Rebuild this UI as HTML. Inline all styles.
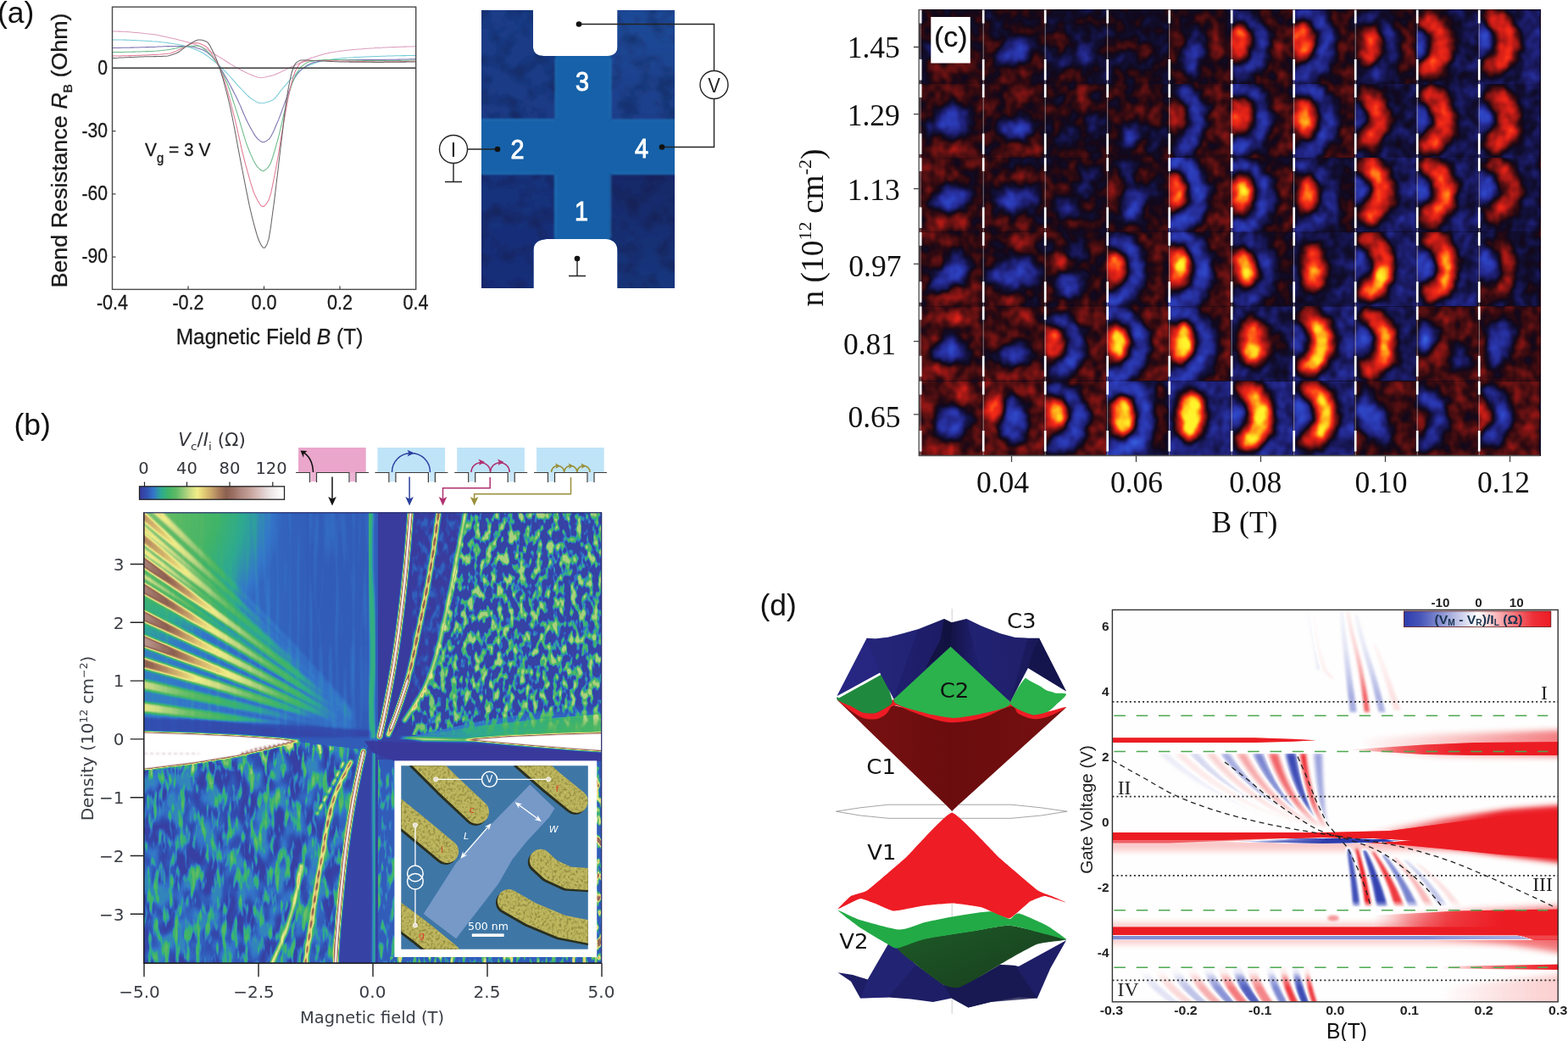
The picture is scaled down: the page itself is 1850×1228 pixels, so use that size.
<!DOCTYPE html>
<html lang="en"><head><meta charset="utf-8"><title>Figure</title>
<style>html,body{margin:0;padding:0;background:#fff;overflow:hidden}svg{display:block}</style>
</head><body>
<svg width="1850" height="1228" viewBox="0 0 1850 1228">
<defs>
<filter id="a2n" x="0" y="0" width="100%" height="100%" color-interpolation-filters="sRGB">
<feTurbulence type="fractalNoise" baseFrequency="0.045" numOctaves="3" seed="7" result="n"/>
<feColorMatrix in="n" type="matrix" values="0 0 0 0 0.04  0 0 0 0 0.08  0 0 0 0 0.22  1.0 0 0 0 -0.42" result="d"/>
<feComposite in="d" in2="SourceGraphic" operator="atop"/>
</filter>
<linearGradient id="a2g1" x1="0" y1="0" x2="0" y2="1"><stop offset="0" stop-color="#1a3c88"/><stop offset="1" stop-color="#1b3a86"/></linearGradient>
<linearGradient id="a2g2" x1="0" y1="0" x2="0" y2="1"><stop offset="0" stop-color="#18327c"/><stop offset="1" stop-color="#172d78"/></linearGradient>
<linearGradient id="a2g3" x1="0" y1="0" x2="0" y2="1"><stop offset="0" stop-color="#1e4a98"/><stop offset="1" stop-color="#1c3e8a"/></linearGradient>
<linearGradient id="a2g4" x1="0" y1="0" x2="0" y2="1"><stop offset="0" stop-color="#162868"/><stop offset="1" stop-color="#19367e"/></linearGradient>
<filter id="a2b" x="-5%" y="-5%" width="110%" height="110%"><feGaussianBlur stdDeviation="1.1"/></filter>
<clipPath id="a2c"><path d="M568 12H629V56Q629.500 66 642 66H716Q728.500 66 728.500 55V12H796V340H728.500V296Q728.500 283 715 282H645Q629.500 283 629.500 295V340H568Z"/></clipPath>
<filter id="bM" filterUnits="userSpaceOnUse" x="169" y="604" width="542" height="533" color-interpolation-filters="sRGB">
<feComponentTransfer><feFuncR type="table" tableValues="0.227 0.192 0.204 0.180 0.251 0.361 0.565 0.792 0.941 0.878 0.784 0.667 0.549 0.612 0.690 0.753 0.824 0.878 0.925 0.973 1.000"/><feFuncG type="table" tableValues="0.227 0.314 0.471 0.667 0.706 0.729 0.784 0.863 0.933 0.784 0.643 0.486 0.376 0.439 0.541 0.612 0.706 0.800 0.894 0.957 1.000"/><feFuncB type="table" tableValues="0.612 0.698 0.792 0.565 0.408 0.392 0.471 0.518 0.533 0.455 0.408 0.361 0.314 0.392 0.502 0.580 0.682 0.800 0.894 0.957 1.000"/></feComponentTransfer>
</filter>
<filter id="bN1" x="0" y="0" width="100%" height="100%" color-interpolation-filters="sRGB">
<feTurbulence type="fractalNoise" baseFrequency="0.15 0.075" numOctaves="2" seed="5"/>
<feColorMatrix type="matrix" values="0 0 0 0 1  0 0 0 0 1  0 0 0 0 1  4.0 0 0 0 -1.78"/>
<feComposite operator="in" in2="SourceGraphic"/>
</filter>
<filter id="bN2" x="0" y="0" width="100%" height="100%" color-interpolation-filters="sRGB">
<feTurbulence type="fractalNoise" baseFrequency="0.16 0.045" numOctaves="2" seed="9"/>
<feColorMatrix type="matrix" values="0 0 0 0 1  0 0 0 0 1  0 0 0 0 1  4.0 0 0 0 -1.95"/>
<feComposite operator="in" in2="SourceGraphic"/>
</filter>
<filter id="bN3" x="0" y="0" width="100%" height="100%" color-interpolation-filters="sRGB">
<feTurbulence type="fractalNoise" baseFrequency="0.2 0.012" numOctaves="1" seed="4"/>
<feColorMatrix type="matrix" values="0 0 0 0 1  0 0 0 0 1  0 0 0 0 1  1.4 0 0 0 -0.62"/>
<feComposite operator="in" in2="SourceGraphic"/>
</filter>
<filter id="bN4" x="0" y="0" width="100%" height="100%" color-interpolation-filters="sRGB">
<feTurbulence type="fractalNoise" baseFrequency="0.05 0.03" numOctaves="2" seed="21"/>
<feColorMatrix type="matrix" values="0 0 0 0 1  0 0 0 0 1  0 0 0 0 1  3.2 0 0 0 -1.1"/>
<feComposite operator="in" in2="SourceGraphic"/>
</filter>
<filter id="bGt" x="-5%" y="-5%" width="110%" height="110%" color-interpolation-filters="sRGB">
<feTurbulence type="fractalNoise" baseFrequency="0.35 0.3" numOctaves="2" seed="2" result="n"/>
<feColorMatrix in="n" type="matrix" values="0 0 0 0 0.45  0 0 0 0 0.42  0 0 0 0 0.15  1.8 0 0 0 -0.82" result="d"/>
<feColorMatrix in="n" type="matrix" values="0 0 0 0 0.88  0 0 0 0 0.84  0 0 0 0 0.5  0 -1.8 0 0 0.7" result="l"/>
<feComposite in="d" in2="SourceGraphic" operator="in" result="d2"/>
<feComposite in="l" in2="SourceGraphic" operator="in" result="l2"/>
<feMerge><feMergeNode in="SourceGraphic"/><feMergeNode in="l2"/><feMergeNode in="d2"/></feMerge>
</filter>
<filter id="bB1" x="-10%" y="-10%" width="120%" height="120%"><feGaussianBlur stdDeviation="1.6"/></filter>
<filter id="bB2" x="-10%" y="-10%" width="120%" height="120%"><feGaussianBlur stdDeviation="0.8"/></filter>
<filter id="bB3" x="-30%" y="-30%" width="160%" height="160%"><feGaussianBlur stdDeviation="5"/></filter>
<clipPath id="bC"><rect x="169.7" y="604.8" width="540" height="531.4"/></clipPath>
<linearGradient id="bs0" gradientUnits="userSpaceOnUse" x1="169.7" y1="0" x2="285" y2="0"><stop offset="0" stop-color="#fff" stop-opacity="0.27"/><stop offset="0.3" stop-color="#fff" stop-opacity="0.16"/><stop offset="0.7" stop-color="#fff" stop-opacity="0.08"/><stop offset="1" stop-color="#fff" stop-opacity="0.02"/></linearGradient>
<linearGradient id="bs1" gradientUnits="userSpaceOnUse" x1="169.7" y1="0" x2="315" y2="0"><stop offset="0" stop-color="#fff" stop-opacity="0.33"/><stop offset="0.3" stop-color="#fff" stop-opacity="0.20"/><stop offset="0.7" stop-color="#fff" stop-opacity="0.09"/><stop offset="1" stop-color="#fff" stop-opacity="0.02"/></linearGradient>
<linearGradient id="bs2" gradientUnits="userSpaceOnUse" x1="169.7" y1="0" x2="325" y2="0"><stop offset="0" stop-color="#fff" stop-opacity="0.25"/><stop offset="0.3" stop-color="#fff" stop-opacity="0.15"/><stop offset="0.7" stop-color="#fff" stop-opacity="0.07"/><stop offset="1" stop-color="#fff" stop-opacity="0.02"/></linearGradient>
<linearGradient id="bs3" gradientUnits="userSpaceOnUse" x1="169.7" y1="0" x2="355" y2="0"><stop offset="0" stop-color="#fff" stop-opacity="0.38"/><stop offset="0.3" stop-color="#fff" stop-opacity="0.23"/><stop offset="0.7" stop-color="#fff" stop-opacity="0.11"/><stop offset="1" stop-color="#fff" stop-opacity="0.02"/></linearGradient>
<linearGradient id="bs4" gradientUnits="userSpaceOnUse" x1="169.7" y1="0" x2="360" y2="0"><stop offset="0" stop-color="#fff" stop-opacity="0.25"/><stop offset="0.3" stop-color="#fff" stop-opacity="0.15"/><stop offset="0.7" stop-color="#fff" stop-opacity="0.07"/><stop offset="1" stop-color="#fff" stop-opacity="0.02"/></linearGradient>
<linearGradient id="bs5" gradientUnits="userSpaceOnUse" x1="169.7" y1="0" x2="385" y2="0"><stop offset="0" stop-color="#fff" stop-opacity="0.59"/><stop offset="0.3" stop-color="#fff" stop-opacity="0.36"/><stop offset="0.7" stop-color="#fff" stop-opacity="0.17"/><stop offset="1" stop-color="#fff" stop-opacity="0.02"/></linearGradient>
<linearGradient id="bs6" gradientUnits="userSpaceOnUse" x1="169.7" y1="0" x2="370" y2="0"><stop offset="0" stop-color="#fff" stop-opacity="0.20"/><stop offset="0.3" stop-color="#fff" stop-opacity="0.12"/><stop offset="0.7" stop-color="#fff" stop-opacity="0.05"/><stop offset="1" stop-color="#fff" stop-opacity="0.02"/></linearGradient>
<linearGradient id="bs7" gradientUnits="userSpaceOnUse" x1="169.7" y1="0" x2="395" y2="0"><stop offset="0" stop-color="#fff" stop-opacity="0.61"/><stop offset="0.3" stop-color="#fff" stop-opacity="0.37"/><stop offset="0.7" stop-color="#fff" stop-opacity="0.17"/><stop offset="1" stop-color="#fff" stop-opacity="0.02"/></linearGradient>
<linearGradient id="bs8" gradientUnits="userSpaceOnUse" x1="169.7" y1="0" x2="400" y2="0"><stop offset="0" stop-color="#fff" stop-opacity="0.64"/><stop offset="0.3" stop-color="#fff" stop-opacity="0.38"/><stop offset="0.7" stop-color="#fff" stop-opacity="0.18"/><stop offset="1" stop-color="#fff" stop-opacity="0.02"/></linearGradient>
<linearGradient id="bs9" gradientUnits="userSpaceOnUse" x1="169.7" y1="0" x2="395" y2="0"><stop offset="0" stop-color="#fff" stop-opacity="0.70"/><stop offset="0.3" stop-color="#fff" stop-opacity="0.42"/><stop offset="0.7" stop-color="#fff" stop-opacity="0.20"/><stop offset="1" stop-color="#fff" stop-opacity="0.02"/></linearGradient>
<linearGradient id="bs10" gradientUnits="userSpaceOnUse" x1="169.7" y1="0" x2="375" y2="0"><stop offset="0" stop-color="#fff" stop-opacity="0.57"/><stop offset="0.3" stop-color="#fff" stop-opacity="0.34"/><stop offset="0.7" stop-color="#fff" stop-opacity="0.16"/><stop offset="1" stop-color="#fff" stop-opacity="0.02"/></linearGradient>
<linearGradient id="bs11" gradientUnits="userSpaceOnUse" x1="169.7" y1="0" x2="350" y2="0"><stop offset="0" stop-color="#fff" stop-opacity="0.28"/><stop offset="0.3" stop-color="#fff" stop-opacity="0.17"/><stop offset="0.7" stop-color="#fff" stop-opacity="0.08"/><stop offset="1" stop-color="#fff" stop-opacity="0.02"/></linearGradient>
<linearGradient id="bs12" gradientUnits="userSpaceOnUse" x1="169.7" y1="0" x2="340" y2="0"><stop offset="0" stop-color="#fff" stop-opacity="0.31"/><stop offset="0.3" stop-color="#fff" stop-opacity="0.19"/><stop offset="0.7" stop-color="#fff" stop-opacity="0.09"/><stop offset="1" stop-color="#fff" stop-opacity="0.02"/></linearGradient>
<radialGradient id="bgc" gradientUnits="userSpaceOnUse" cx="165" cy="598" r="170"><stop offset="0" stop-color="#fff" stop-opacity="0.2"/><stop offset="0.5" stop-color="#fff" stop-opacity="0.13"/><stop offset="1" stop-color="#fff" stop-opacity="0"/></radialGradient>
<linearGradient id="bgl" gradientUnits="userSpaceOnUse" x1="170" y1="0" x2="370" y2="0"><stop offset="0" stop-color="#fff" stop-opacity="0.045"/><stop offset="1" stop-color="#fff" stop-opacity="0"/></linearGradient>
<linearGradient id="bn1" gradientUnits="userSpaceOnUse" x1="480" y1="0" x2="560" y2="0"><stop offset="0" stop-color="#fff" stop-opacity="0.26"/><stop offset="1" stop-color="#fff" stop-opacity="0.31"/></linearGradient>
<linearGradient id="bn2" gradientUnits="userSpaceOnUse" x1="170" y1="0" x2="440" y2="0"><stop offset="0" stop-color="#fff" stop-opacity="0.15"/><stop offset="0.7" stop-color="#fff" stop-opacity="0.17"/><stop offset="1" stop-color="#fff" stop-opacity="0.15"/></linearGradient>
<linearGradient id="bn3" gradientUnits="userSpaceOnUse" x1="0" y1="830" x2="0" y2="862"><stop offset="0" stop-color="#303030" stop-opacity="0"/><stop offset="1" stop-color="#1c1c1c" stop-opacity="0.9"/></linearGradient>
<linearGradient id="bn4" gradientUnits="userSpaceOnUse" x1="480" y1="0" x2="709" y2="0"><stop offset="0" stop-color="#fff" stop-opacity="0"/><stop offset="0.5" stop-color="#fff" stop-opacity="0.07"/><stop offset="1" stop-color="#fff" stop-opacity="0.13"/></linearGradient>
<linearGradient id="bn5" gradientUnits="userSpaceOnUse" x1="0" y1="880" x2="0" y2="940"><stop offset="0" stop-color="#fff" stop-opacity="0.2"/><stop offset="1" stop-color="#fff" stop-opacity="0"/></linearGradient>
<linearGradient id="bgr" gradientUnits="userSpaceOnUse" x1="470" y1="0" x2="709" y2="0"><stop offset="0" stop-color="#fff" stop-opacity="0"/><stop offset="0.4" stop-color="#fff" stop-opacity="0.1"/><stop offset="1" stop-color="#fff" stop-opacity="0.2"/></linearGradient>
<filter id="cB" x="-100%" y="-100%" width="300%" height="300%" color-interpolation-filters="sRGB"><feGaussianBlur stdDeviation="5.4"/></filter>
<filter id="cM" filterUnits="userSpaceOnUse" x="1084" y="11" width="734" height="527" color-interpolation-filters="sRGB">
<feTurbulence type="fractalNoise" baseFrequency="0.07 0.06" numOctaves="2" seed="11" result="n"/>
<feColorMatrix in="n" type="matrix" values="1 0 0 0 0  1 0 0 0 0  1 0 0 0 0  0 0 0 0 1" result="ng"/>
<feComposite in="SourceGraphic" in2="ng" operator="arithmetic" k1="0" k2="1" k3="0.26" k4="-0.13" result="fz"/>
<feComponentTransfer in="fz"><feFuncR type="table" tableValues="0.282 0.235 0.220 0.200 0.180 0.165 0.145 0.118 0.090 0.063 0.071 0.188 0.337 0.502 0.675 0.847 0.957 1.000 1.000 1.000 1.000"/><feFuncG type="table" tableValues="0.816 0.612 0.408 0.322 0.267 0.220 0.173 0.125 0.086 0.055 0.031 0.039 0.063 0.078 0.102 0.125 0.173 0.361 0.596 0.831 0.957"/><feFuncB type="table" tableValues="0.957 0.925 0.878 0.824 0.761 0.690 0.580 0.455 0.322 0.188 0.102 0.063 0.071 0.078 0.086 0.094 0.094 0.094 0.094 0.125 0.173"/></feComponentTransfer>
</filter>
<clipPath id="ct1_1"><rect x="1084.8" y="11.5" width="74" height="87.5"/></clipPath>
<clipPath id="ct1_2"><rect x="1158.8" y="11.5" width="73" height="87.5"/></clipPath>
<clipPath id="ct1_3"><rect x="1231.8" y="11.5" width="73.5" height="87.5"/></clipPath>
<clipPath id="ct1_4"><rect x="1305.3" y="11.5" width="73" height="87.5"/></clipPath>
<clipPath id="ct1_5"><rect x="1378.3" y="11.5" width="73.5" height="87.5"/></clipPath>
<clipPath id="ct1_6"><rect x="1451.8" y="11.5" width="73.5" height="87.5"/></clipPath>
<clipPath id="ct1_7"><rect x="1525.3" y="11.5" width="72.5" height="87.5"/></clipPath>
<clipPath id="ct1_8"><rect x="1597.8" y="11.5" width="73" height="87.5"/></clipPath>
<clipPath id="ct1_9"><rect x="1670.8" y="11.5" width="73" height="87.5"/></clipPath>
<clipPath id="ct1_10"><rect x="1743.8" y="11.5" width="73" height="87.5"/></clipPath>
<clipPath id="ct2_1"><rect x="1084.8" y="99" width="74" height="87"/></clipPath>
<clipPath id="ct2_2"><rect x="1158.8" y="99" width="73" height="87"/></clipPath>
<clipPath id="ct2_3"><rect x="1231.8" y="99" width="73.5" height="87"/></clipPath>
<clipPath id="ct2_4"><rect x="1305.3" y="99" width="73" height="87"/></clipPath>
<clipPath id="ct2_5"><rect x="1378.3" y="99" width="73.5" height="87"/></clipPath>
<clipPath id="ct2_6"><rect x="1451.8" y="99" width="73.5" height="87"/></clipPath>
<clipPath id="ct2_7"><rect x="1525.3" y="99" width="72.5" height="87"/></clipPath>
<clipPath id="ct2_8"><rect x="1597.8" y="99" width="73" height="87"/></clipPath>
<clipPath id="ct2_9"><rect x="1670.8" y="99" width="73" height="87"/></clipPath>
<clipPath id="ct2_10"><rect x="1743.8" y="99" width="73" height="87"/></clipPath>
<clipPath id="ct3_1"><rect x="1084.8" y="186" width="74" height="87.7"/></clipPath>
<clipPath id="ct3_2"><rect x="1158.8" y="186" width="73" height="87.7"/></clipPath>
<clipPath id="ct3_3"><rect x="1231.8" y="186" width="73.5" height="87.7"/></clipPath>
<clipPath id="ct3_4"><rect x="1305.3" y="186" width="73" height="87.7"/></clipPath>
<clipPath id="ct3_5"><rect x="1378.3" y="186" width="73.5" height="87.7"/></clipPath>
<clipPath id="ct3_6"><rect x="1451.8" y="186" width="73.5" height="87.7"/></clipPath>
<clipPath id="ct3_7"><rect x="1525.3" y="186" width="72.5" height="87.7"/></clipPath>
<clipPath id="ct3_8"><rect x="1597.8" y="186" width="73" height="87.7"/></clipPath>
<clipPath id="ct3_9"><rect x="1670.8" y="186" width="73" height="87.7"/></clipPath>
<clipPath id="ct3_10"><rect x="1743.8" y="186" width="73" height="87.7"/></clipPath>
<clipPath id="ct4_1"><rect x="1084.8" y="273.7" width="74" height="87.6"/></clipPath>
<clipPath id="ct4_2"><rect x="1158.8" y="273.7" width="73" height="87.6"/></clipPath>
<clipPath id="ct4_3"><rect x="1231.8" y="273.7" width="73.5" height="87.6"/></clipPath>
<clipPath id="ct4_4"><rect x="1305.3" y="273.7" width="73" height="87.6"/></clipPath>
<clipPath id="ct4_5"><rect x="1378.3" y="273.7" width="73.5" height="87.6"/></clipPath>
<clipPath id="ct4_6"><rect x="1451.8" y="273.7" width="73.5" height="87.6"/></clipPath>
<clipPath id="ct4_7"><rect x="1525.3" y="273.7" width="72.5" height="87.6"/></clipPath>
<clipPath id="ct4_8"><rect x="1597.8" y="273.7" width="73" height="87.6"/></clipPath>
<clipPath id="ct4_9"><rect x="1670.8" y="273.7" width="73" height="87.6"/></clipPath>
<clipPath id="ct4_10"><rect x="1743.8" y="273.7" width="73" height="87.6"/></clipPath>
<clipPath id="ct5_1"><rect x="1084.8" y="361.3" width="74" height="88.1"/></clipPath>
<clipPath id="ct5_2"><rect x="1158.8" y="361.3" width="73" height="88.1"/></clipPath>
<clipPath id="ct5_3"><rect x="1231.8" y="361.3" width="73.5" height="88.1"/></clipPath>
<clipPath id="ct5_4"><rect x="1305.3" y="361.3" width="73" height="88.1"/></clipPath>
<clipPath id="ct5_5"><rect x="1378.3" y="361.3" width="73.5" height="88.1"/></clipPath>
<clipPath id="ct5_6"><rect x="1451.8" y="361.3" width="73.5" height="88.1"/></clipPath>
<clipPath id="ct5_7"><rect x="1525.3" y="361.3" width="72.5" height="88.1"/></clipPath>
<clipPath id="ct5_8"><rect x="1597.8" y="361.3" width="73" height="88.1"/></clipPath>
<clipPath id="ct5_9"><rect x="1670.8" y="361.3" width="73" height="88.1"/></clipPath>
<clipPath id="ct5_10"><rect x="1743.8" y="361.3" width="73" height="88.1"/></clipPath>
<clipPath id="ct6_1"><rect x="1084.8" y="449.4" width="74" height="87.9"/></clipPath>
<clipPath id="ct6_2"><rect x="1158.8" y="449.4" width="73" height="87.9"/></clipPath>
<clipPath id="ct6_3"><rect x="1231.8" y="449.4" width="73.5" height="87.9"/></clipPath>
<clipPath id="ct6_4"><rect x="1305.3" y="449.4" width="73" height="87.9"/></clipPath>
<clipPath id="ct6_5"><rect x="1378.3" y="449.4" width="73.5" height="87.9"/></clipPath>
<clipPath id="ct6_6"><rect x="1451.8" y="449.4" width="73.5" height="87.9"/></clipPath>
<clipPath id="ct6_7"><rect x="1525.3" y="449.4" width="72.5" height="87.9"/></clipPath>
<clipPath id="ct6_8"><rect x="1597.8" y="449.4" width="73" height="87.9"/></clipPath>
<clipPath id="ct6_9"><rect x="1670.8" y="449.4" width="73" height="87.9"/></clipPath>
<clipPath id="ct6_10"><rect x="1743.8" y="449.4" width="73" height="87.9"/></clipPath>
<filter id="dM" filterUnits="userSpaceOnUse" x="1312" y="719" width="527" height="464" color-interpolation-filters="sRGB">
<feComponentTransfer><feFuncR type="table" tableValues="0.173 0.275 0.392 0.557 0.769 1.000 0.984 0.965 0.949 0.937 0.929"/><feFuncG type="table" tableValues="0.235 0.329 0.439 0.596 0.784 1.000 0.816 0.604 0.408 0.227 0.110"/><feFuncB type="table" tableValues="0.682 0.722 0.776 0.847 0.918 1.000 0.816 0.612 0.424 0.251 0.141"/></feComponentTransfer>
</filter>
<filter id="dB1" x="-20%" y="-20%" width="140%" height="140%"><feGaussianBlur stdDeviation="1.5"/></filter>
<filter id="dB5" x="-20%" y="-20%" width="140%" height="140%"><feGaussianBlur stdDeviation="2"/></filter>
<filter id="dB2" x="-20%" y="-50%" width="140%" height="200%"><feGaussianBlur stdDeviation="3.5"/></filter>
<filter id="dB3" x="-20%" y="-50%" width="140%" height="200%"><feGaussianBlur stdDeviation="0.7"/></filter>
<filter id="dB4" x="-10%" y="-10%" width="120%" height="120%"><feGaussianBlur stdDeviation="0.5"/></filter>
<clipPath id="dC"><rect x="1312.4" y="719.4" width="525.8" height="462.4"/></clipPath>
<linearGradient id="dg1" gradientUnits="userSpaceOnUse" x1="1600" y1="0" x2="1838" y2="0"><stop offset="0" stop-color="#fff" stop-opacity="0"/><stop offset="0.35" stop-color="#fff" stop-opacity="0.5"/><stop offset="0.7" stop-color="#fff" stop-opacity="1"/><stop offset="1" stop-color="#fff" stop-opacity="1"/></linearGradient>
<linearGradient id="dg2" gradientUnits="userSpaceOnUse" x1="1590" y1="0" x2="1838" y2="0"><stop offset="0" stop-color="#fff" stop-opacity="0"/><stop offset="0.25" stop-color="#fff" stop-opacity="0.6"/><stop offset="0.55" stop-color="#fff" stop-opacity="1"/><stop offset="1" stop-color="#fff" stop-opacity="1"/></linearGradient>
<linearGradient id="dg3" gradientUnits="userSpaceOnUse" x1="1620" y1="0" x2="1838" y2="0"><stop offset="0" stop-color="#fff" stop-opacity="0"/><stop offset="0.4" stop-color="#fff" stop-opacity="0.7"/><stop offset="0.7" stop-color="#fff" stop-opacity="1"/><stop offset="1" stop-color="#fff" stop-opacity="1"/></linearGradient>
<linearGradient id="dg4" gradientUnits="userSpaceOnUse" x1="1700" y1="0" x2="1838" y2="0"><stop offset="0" stop-color="#fff" stop-opacity="0"/><stop offset="0.5" stop-color="#fff" stop-opacity="0.6"/><stop offset="1" stop-color="#fff" stop-opacity="1"/></linearGradient>
<linearGradient id="dg5" gradientUnits="userSpaceOnUse" x1="1312" y1="0" x2="1560" y2="0"><stop offset="0" stop-color="#fff" stop-opacity="1"/><stop offset="0.8" stop-color="#fff" stop-opacity="1"/><stop offset="1" stop-color="#fff" stop-opacity="0"/></linearGradient>
<linearGradient id="dg6" gradientUnits="userSpaceOnUse" x1="1440" y1="0" x2="1670" y2="0"><stop offset="0" stop-color="#000" stop-opacity="0"/><stop offset="0.35" stop-color="#000" stop-opacity="0.7"/><stop offset="0.55" stop-color="#000" stop-opacity="1"/><stop offset="0.85" stop-color="#000" stop-opacity="1"/><stop offset="1" stop-color="#000" stop-opacity="0"/></linearGradient>
<linearGradient id="dg7" gradientUnits="userSpaceOnUse" x1="1600" y1="0" x2="1838" y2="0"><stop offset="0" stop-color="#fff" stop-opacity="0"/><stop offset="0.5" stop-color="#fff" stop-opacity="0.25"/><stop offset="1" stop-color="#fff" stop-opacity="0.5"/></linearGradient>
<linearGradient id="dm2g" gradientUnits="userSpaceOnUse" x1="0" y1="889" x2="0" y2="986"><stop offset="0" stop-color="#fff" stop-opacity="1"/><stop offset="0.6" stop-color="#fff" stop-opacity="0.95"/><stop offset="0.85" stop-color="#fff" stop-opacity="0.6"/><stop offset="1" stop-color="#fff" stop-opacity="0"/></linearGradient><mask id="dm2" maskUnits="userSpaceOnUse" x="1312" y="889" width="528" height="97"><rect x="1312" y="889" width="528" height="97" fill="url(#dm2g)"/></mask>
<linearGradient id="dm3g" gradientUnits="userSpaceOnUse" x1="0" y1="996" x2="0" y2="1071"><stop offset="0" stop-color="#fff" stop-opacity="0.2"/><stop offset="0.12" stop-color="#fff" stop-opacity="0.9"/><stop offset="0.3" stop-color="#fff" stop-opacity="1"/><stop offset="0.88" stop-color="#fff" stop-opacity="1"/><stop offset="1" stop-color="#fff" stop-opacity="0"/></linearGradient><mask id="dm3" maskUnits="userSpaceOnUse" x="1312" y="996" width="528" height="75"><rect x="1312" y="996" width="528" height="75" fill="url(#dm3g)"/></mask>
<linearGradient id="dm1g" gradientUnits="userSpaceOnUse" x1="0" y1="719" x2="0" y2="846"><stop offset="0" stop-color="#fff" stop-opacity="0.1"/><stop offset="0.35" stop-color="#fff" stop-opacity="0.3"/><stop offset="0.6" stop-color="#fff" stop-opacity="0.6"/><stop offset="0.8" stop-color="#fff" stop-opacity="1"/><stop offset="0.93" stop-color="#fff" stop-opacity="1"/><stop offset="1" stop-color="#fff" stop-opacity="0"/></linearGradient><mask id="dm1" maskUnits="userSpaceOnUse" x="1312" y="719" width="528" height="127"><rect x="1312" y="719" width="528" height="127" fill="url(#dm1g)"/></mask>
<linearGradient id="dm4g" gradientUnits="userSpaceOnUse" x1="0" y1="1138" x2="0" y2="1184"><stop offset="0" stop-color="#fff" stop-opacity="0"/><stop offset="0.2" stop-color="#fff" stop-opacity="0.12"/><stop offset="0.42" stop-color="#fff" stop-opacity="0.7"/><stop offset="0.6" stop-color="#fff" stop-opacity="1"/><stop offset="1" stop-color="#fff" stop-opacity="1"/></linearGradient><mask id="dm4" maskUnits="userSpaceOnUse" x="1312" y="1138" width="528" height="46"><rect x="1312" y="1138" width="528" height="46" fill="url(#dm4g)"/></mask>
<linearGradient id="dcb" x1="0" y1="0" x2="1" y2="0"><stop offset="0" stop-color="#2c3cae"/><stop offset="0.12" stop-color="#4a58ba"/><stop offset="0.5" stop-color="#fff"/><stop offset="0.88" stop-color="#ee3038"/><stop offset="1" stop-color="#ed1c24"/></linearGradient>
<linearGradient id="d3a" x1="0" y1="0" x2="1" y2="0"><stop offset="0" stop-color="#24247c"/><stop offset="0.45" stop-color="#1c1c66"/><stop offset="0.5" stop-color="#141448"/><stop offset="0.6" stop-color="#1e1e6c"/><stop offset="1" stop-color="#161650"/></linearGradient>
<linearGradient id="d3b" x1="0" y1="0" x2="1" y2="1"><stop offset="0" stop-color="#1d5a28"/><stop offset="1" stop-color="#183c1c"/></linearGradient>
<linearGradient id="d3c" x1="0" y1="0" x2="1" y2="0"><stop offset="0" stop-color="#7a1212"/><stop offset="0.5" stop-color="#6a0c0e"/><stop offset="1" stop-color="#761010"/></linearGradient>
</defs>
<rect width="1850" height="1228" fill="#fff"/>
<g id="pa">
<path d="M132.5 37 134.8 37 137 37 139.3 37.1 141.5 37.1 143.8 37.2 146 37.3 148.3 37.5 150.5 37.6 152.8 37.8 155 38 157.3 38.2 159.5 38.4 161.8 38.6 164 38.8 166.3 39 168.5 39.2 170.8 39.5 173 39.7 175.3 40 177.5 40.2 179.8 40.5 182 40.8 184.3 41.1 186.5 41.5 188.8 41.9 191 42.4 193.3 42.9 195.5 43.4 197.8 43.9 200 44.4 202.3 44.9 204.6 45.5 206.8 46 209.1 46.6 211.3 47.2 213.6 47.7 215.8 48.3 218.1 48.9 220.3 49.5 222.6 50.1 224.8 50.7 227.1 51.4 229.3 52.1 231.6 52.9 233.8 53.7 236.1 54.5 238.3 55.5 240.6 56.6 242.8 57.8 245.1 59.1 247.3 60.4 249.6 61.7 251.8 63.1 254.1 64.5 256.3 65.8 258.6 67.1 260.8 68.5 263.1 69.9 265.3 71.3 267.6 72.7 269.8 74.2 272.1 75.6 274.3 76.9 276.6 78.3 278.9 79.6 281.1 80.8 283.4 82 285.6 83.2 287.9 84.4 290.1 85.5 292.4 86.6 294.6 87.6 296.9 88.5 299.1 89.4 301.4 90.3 303.6 91.1 305.9 91.6 308.1 91.7 310.4 91.5 312.6 91.1 314.9 90.6 317.1 90.1 319.4 89.5 321.6 88.9 323.9 88.2 326.1 87.3 328.4 86.3 330.6 85.2 332.9 84.1 335.1 83 337.4 82 339.6 80.9 341.9 79.9 344.1 78.8 346.4 77.7 348.7 76.7 350.9 75.6 353.2 74.5 355.4 73.4 357.7 72.3 359.9 71.3 362.2 70.3 364.4 69.4 366.7 68.6 368.9 67.9 371.2 67.1 373.4 66.4 375.7 65.7 377.9 65 380.2 64.4 382.4 63.8 384.7 63.2 386.9 62.7 389.2 62.2 391.4 61.8 393.7 61.5 395.9 61.1 398.2 60.8 400.4 60.4 402.7 60.1 404.9 59.9 407.2 59.6 409.4 59.3 411.7 59.1 413.9 58.9 416.2 58.6 418.4 58.4 420.7 58.2 423 58 425.2 57.9 427.5 57.7 429.7 57.5 432 57.3 434.2 57.2 436.5 57 438.7 56.9 441 56.8 443.2 56.6 445.5 56.5 447.7 56.4 450 56.3 452.2 56.1 454.5 56 456.7 55.9 459 55.8 461.2 55.7 463.5 55.6 465.7 55.6 468 55.5 470.2 55.4 472.5 55.3 474.7 55.2 477 55.1 479.2 55.1 481.5 55 483.7 54.9 486 54.9 488.2 54.8 490.5 54.8" fill="none" stroke="#dc9cbc" stroke-width="1.05" stroke-linejoin="round"/>
<path d="M132.5 46.9 134.8 46.9 137 46.9 139.3 46.9 141.5 47 143.8 47 146 47.1 148.3 47.1 150.5 47.2 152.8 47.3 155 47.4 157.3 47.5 159.5 47.6 161.8 47.7 164 47.8 166.3 48 168.5 48.1 170.8 48.2 173 48.3 175.3 48.5 177.5 48.6 179.8 48.8 182 48.9 184.3 49.1 186.5 49.3 188.8 49.5 191 49.8 193.3 50 195.5 50.3 197.8 50.6 200 50.9 202.3 51.2 204.6 51.6 206.8 51.9 209.1 52.3 211.3 52.7 213.6 53.1 215.8 53.6 218.1 54.2 220.3 54.8 222.6 55.5 224.8 56.2 227.1 57 229.3 57.9 231.6 58.8 233.8 59.8 236.1 60.8 238.3 62 240.6 63.3 242.8 64.8 245.1 66.4 247.3 68.1 249.6 69.9 251.8 71.7 254.1 73.5 256.3 75.4 258.6 77.4 260.8 79.5 263.1 81.6 265.3 83.8 267.6 86.1 269.8 88.5 272.1 91 274.3 93.6 276.6 96.2 278.9 98.8 281.1 101.3 283.4 103.7 285.6 106 287.9 108.4 290.1 110.7 292.4 113 294.6 115 296.9 116.7 299.1 118.1 301.4 119.4 303.6 120.6 305.9 121.4 308.1 121.7 310.4 121.5 312.6 121.2 314.9 120.6 317.1 119.9 319.4 119.1 321.6 118.1 323.9 116.3 326.1 113.8 328.4 110.9 330.6 107.8 332.9 105 335.1 102.4 337.4 99.8 339.6 97.1 341.9 94.5 344.1 92.1 346.4 89.8 348.7 87.8 350.9 85.9 353.2 84 355.4 82.3 357.7 80.8 359.9 79.5 362.2 78.4 364.4 77.3 366.7 76.3 368.9 75.4 371.2 74.5 373.4 73.8 375.7 73.1 377.9 72.5 380.2 72 382.4 71.6 384.7 71.1 386.9 70.7 389.2 70.4 391.4 70 393.7 69.7 395.9 69.4 398.2 69.2 400.4 69 402.7 68.8 404.9 68.6 407.2 68.4 409.4 68.2 411.7 68.1 413.9 67.9 416.2 67.8 418.4 67.6 420.7 67.5 423 67.4 425.2 67.3 427.5 67.2 429.7 67 432 66.9 434.2 66.8 436.5 66.8 438.7 66.7 441 66.6 443.2 66.5 445.5 66.4 447.7 66.4 450 66.3 452.2 66.2 454.5 66.2 456.7 66.1 459 66 461.2 66 463.5 65.9 465.7 65.8 468 65.8 470.2 65.7 472.5 65.7 474.7 65.6 477 65.6 479.2 65.6 481.5 65.5 483.7 65.5 486 65.5 488.2 65.5 490.5 65.4" fill="none" stroke="#74cbd6" stroke-width="1.05" stroke-linejoin="round"/>
<path d="M132.5 56.5 134.8 56.5 137 56.5 139.3 56.4 141.5 56.4 143.8 56.3 146 56.3 148.3 56.3 150.5 56.2 152.8 56.2 155 56.1 157.3 56.1 159.5 56 161.8 55.9 164 55.9 166.3 55.8 168.5 55.8 170.8 55.7 173 55.6 175.3 55.6 177.5 55.5 179.8 55.4 182 55.4 184.3 55.3 186.5 55.1 188.8 55 191 54.9 193.3 54.8 195.5 54.7 197.8 54.6 200 54.6 202.3 54.5 204.6 54.5 206.8 54.5 209.1 54.6 211.3 54.6 213.6 54.6 215.8 54.6 218.1 54.7 220.3 54.7 222.6 54.8 224.8 55 227.1 55.3 229.3 55.8 231.6 56.4 233.8 57 236.1 57.8 238.3 58.6 240.6 59.5 242.8 60.8 245.1 62.4 247.3 64.3 249.6 66.4 251.8 68.8 254.1 71.3 256.3 74.2 258.6 77.7 260.8 81.4 263.1 85.3 265.3 89.2 267.6 93.1 269.8 97.2 272.1 101.4 274.3 105.8 276.6 110.2 278.9 114.8 281.1 119.4 283.4 124.4 285.6 129.7 287.9 135 290.1 140.1 292.4 144.8 294.6 149 296.9 153.2 299.1 157.1 301.4 160.6 303.6 163.4 305.9 165.4 308.1 167.1 310.4 167.7 312.6 167.2 314.9 165.9 317.1 164.3 319.4 161.5 321.6 157.3 323.9 152.3 326.1 147 328.4 141.9 330.6 136.1 332.9 129.9 335.1 123.6 337.4 117.5 339.6 111.5 341.9 105.3 344.1 99.4 346.4 94.3 348.7 90.5 350.9 87.3 353.2 84.5 355.4 82.3 357.7 80.4 359.9 78.8 362.2 77.3 364.4 76 366.7 74.9 368.9 74.1 371.2 73.5 373.4 72.9 375.7 72.4 377.9 72 380.2 71.5 382.4 71.2 384.7 70.9 386.9 70.6 389.2 70.5 391.4 70.4 393.7 70.4 395.9 70.4 398.2 70.4 400.4 70.4 402.7 70.4 404.9 70.4 407.2 70.4 409.4 70.4 411.7 70.4 413.9 70.4 416.2 70.4 418.4 70.4 420.7 70.4 423 70.4 425.2 70.4 427.5 70.4 429.7 70.4 432 70.4 434.2 70.4 436.5 70.4 438.7 70.4 441 70.4 443.2 70.4 445.5 70.4 447.7 70.4 450 70.4 452.2 70.4 454.5 70.4 456.7 70.3 459 70.3 461.2 70.3 463.5 70.2 465.7 70.2 468 70.2 470.2 70.1 472.5 70.1 474.7 70 477 70 479.2 69.9 481.5 69.9 483.7 69.8 486 69.8 488.2 69.7 490.5 69.6" fill="none" stroke="#7a70ae" stroke-width="1.05" stroke-linejoin="round"/>
<path d="M132.5 61.5 134.8 61.5 137 61.5 139.3 61.4 141.5 61.4 143.8 61.4 146 61.4 148.3 61.3 150.5 61.3 152.8 61.2 155 61.2 157.3 61.1 159.5 61.1 161.8 61 164 60.9 166.3 60.9 168.5 60.8 170.8 60.7 173 60.6 175.3 60.6 177.5 60.5 179.8 60.4 182 60.2 184.3 60.1 186.5 59.9 188.8 59.7 191 59.5 193.3 59.2 195.5 59 197.8 58.7 200 58.4 202.3 58.1 204.6 57.6 206.8 57.1 209.1 56.6 211.3 56.1 213.6 55.6 215.8 55.2 218.1 55 220.3 54.8 222.6 54.6 224.8 54.4 227.1 54.2 229.3 54.1 231.6 54.1 233.8 54.1 236.1 54.7 238.3 55.9 240.6 57.5 242.8 59.2 245.1 61.1 247.3 63.2 249.6 65.8 251.8 68.8 254.1 71.9 256.3 75.3 258.6 78.9 260.8 82.9 263.1 87.3 265.3 92 267.6 97.2 269.8 103 272.1 109.5 274.3 116.5 276.6 123.6 278.9 130.7 281.1 137.7 283.4 145.1 285.6 152.7 287.9 160.3 290.1 167.4 292.4 173.8 294.6 179.3 296.9 184.4 299.1 189.2 301.4 193.4 303.6 196.7 305.9 199 308.1 200.9 310.4 201.7 312.6 200.8 314.9 198.9 317.1 196.4 319.4 192.2 321.6 186 323.9 178.5 326.1 170.6 328.4 162.5 330.6 153.3 332.9 143.4 335.1 133.7 337.4 124.8 339.6 115.9 341.9 107.4 344.1 100.1 346.4 94.3 348.7 89.1 350.9 84.7 353.2 81.3 355.4 78.9 357.7 76.9 359.9 75.3 362.2 73.9 364.4 73.1 366.7 72.6 368.9 72.2 371.2 71.8 373.4 71.4 375.7 71.1 377.9 70.9 380.2 70.7 382.4 70.5 384.7 70.4 386.9 70.4 389.2 70.4 391.4 70.4 393.7 70.4 395.9 70.5 398.2 70.5 400.4 70.5 402.7 70.6 404.9 70.7 407.2 70.7 409.4 70.8 411.7 70.9 413.9 70.9 416.2 71 418.4 71.1 420.7 71.1 423 71.2 425.2 71.3 427.5 71.3 429.7 71.4 432 71.5 434.2 71.5 436.5 71.5 438.7 71.6 441 71.6 443.2 71.6 445.5 71.6 447.7 71.6 450 71.6 452.2 71.6 454.5 71.6 456.7 71.6 459 71.6 461.2 71.5 463.5 71.5 465.7 71.5 468 71.4 470.2 71.4 472.5 71.4 474.7 71.3 477 71.3 479.2 71.2 481.5 71.2 483.7 71.1 486 71 488.2 71 490.5 70.9" fill="none" stroke="#6aba88" stroke-width="1.05" stroke-linejoin="round"/>
<path d="M132.5 65.9 134.8 65.9 137 65.9 139.3 65.9 141.5 65.9 143.8 65.8 146 65.8 148.3 65.7 150.5 65.7 152.8 65.6 155 65.6 157.3 65.5 159.5 65.4 161.8 65.3 164 65.2 166.3 65.2 168.5 65.1 170.8 65 173 64.9 175.3 64.8 177.5 64.7 179.8 64.6 182 64.5 184.3 64.4 186.5 64.2 188.8 64.1 191 63.9 193.3 63.7 195.5 63.5 197.8 63.2 200 62.9 202.3 62.4 204.6 61.6 206.8 60.7 209.1 59.6 211.3 58.5 213.6 57.5 215.8 56.6 218.1 55.5 220.3 54.3 222.6 53.2 224.8 52.1 227.1 51.2 229.3 50.7 231.6 50.6 233.8 50.9 236.1 51.5 238.3 52.4 240.6 53.5 242.8 54.7 245.1 56.8 247.3 59.6 249.6 63 251.8 66.7 254.1 70.4 256.3 74.5 258.6 79.1 260.8 84.2 263.1 89.9 265.3 96.6 267.6 104.1 269.8 112.3 272.1 120.9 274.3 129.6 276.6 138.3 278.9 147.8 281.1 157.8 283.4 167.9 285.6 177.8 287.9 187 290.1 195.3 292.4 203.6 294.6 211.7 296.9 219.3 299.1 226 301.4 231.6 303.6 235.8 305.9 239.8 308.1 242.7 310.4 243.8 312.6 242.5 314.9 239.6 317.1 235.9 319.4 228.9 321.6 218.6 323.9 207 326.1 195.4 328.4 182.5 330.6 168.7 332.9 155.2 335.1 142.5 337.4 129.7 339.6 117.3 341.9 106.4 344.1 97.5 346.4 89.6 348.7 83.3 350.9 79.2 353.2 75.9 355.4 73.7 357.7 73 359.9 72.4 362.2 72 364.4 71.7 366.7 71.5 368.9 71.4 371.2 71.4 373.4 71.4 375.7 71.4 377.9 71.4 380.2 71.5 382.4 71.5 384.7 71.5 386.9 71.6 389.2 71.6 391.4 71.7 393.7 71.7 395.9 71.8 398.2 71.8 400.4 71.9 402.7 71.9 404.9 72 407.2 72 409.4 72.1 411.7 72.1 413.9 72.2 416.2 72.3 418.4 72.3 420.7 72.4 423 72.5 425.2 72.5 427.5 72.6 429.7 72.6 432 72.7 434.2 72.7 436.5 72.8 438.7 72.8 441 72.8 443.2 72.9 445.5 72.9 447.7 72.9 450 72.9 452.2 72.9 454.5 72.8 456.7 72.8 459 72.8 461.2 72.8 463.5 72.8 465.7 72.7 468 72.7 470.2 72.7 472.5 72.6 474.7 72.6 477 72.5 479.2 72.5 481.5 72.4 483.7 72.3 486 72.3 488.2 72.2 490.5 72.1" fill="none" stroke="#e07a94" stroke-width="1.05" stroke-linejoin="round"/>
<path d="M132.5 68.7 134.8 68.5 137 68.4 139.3 68.3 141.5 68.1 143.8 68 146 67.9 148.3 67.8 150.5 67.7 152.8 67.6 155 67.5 157.3 67.4 159.5 67.3 161.8 67.2 164 67.1 166.3 67 168.5 66.9 170.8 66.8 173 66.8 175.3 66.7 177.5 66.7 179.8 66.7 182 66.6 184.3 66.6 186.5 66.5 188.8 66.5 191 66.4 193.3 66.3 195.5 66.2 197.8 65.9 200 65.4 202.3 64.8 204.6 64 206.8 63.2 209.1 62.3 211.3 61 213.6 59.4 215.8 57.6 218.1 55.8 220.3 54.1 222.6 52.7 224.8 51.4 227.1 50 229.3 48.7 231.6 47.7 233.8 47 236.1 46.9 238.3 47.2 240.6 47.9 242.8 48.8 245.1 50.1 247.3 53.1 249.6 57.5 251.8 62 254.1 66.9 256.3 72.5 258.6 78.7 260.8 85.5 263.1 93 265.3 101.1 267.6 109.8 269.8 119 272.1 128.7 274.3 139.5 276.6 151.2 278.9 163.4 281.1 175.7 283.4 187.7 285.6 199 287.9 210.6 290.1 222.1 292.4 233.4 294.6 244.1 296.9 253.9 299.1 262.6 301.4 271 303.6 278.7 305.9 284.8 308.1 289.1 310.4 292.3 312.6 292.2 314.9 288.4 317.1 281.9 319.4 268.4 321.6 251.6 323.9 234.9 326.1 216.5 328.4 197 330.6 177.7 332.9 159.1 335.1 140.1 337.4 122.3 339.6 107.7 341.9 95.5 344.1 85.7 346.4 79.3 348.7 74.8 350.9 72.9 353.2 71.6 355.4 70.9 357.7 70.9 359.9 70.9 362.2 71 364.4 71.1 366.7 71.2 368.9 71.4 371.2 71.4 373.4 71.6 375.7 71.7 377.9 71.8 380.2 71.9 382.4 72 384.7 72.2 386.9 72.3 389.2 72.4 391.4 72.5 393.7 72.6 395.9 72.7 398.2 72.8 400.4 72.9 402.7 72.9 404.9 72.9 407.2 73 409.4 73 411.7 73.1 413.9 73.1 416.2 73.1 418.4 73.2 420.7 73.2 423 73.2 425.2 73.2 427.5 73.3 429.7 73.3 432 73.3 434.2 73.3 436.5 73.3 438.7 73.3 441 73.4 443.2 73.4 445.5 73.4 447.7 73.4 450 73.4 452.2 73.4 454.5 73.3 456.7 73.3 459 73.3 461.2 73.3 463.5 73.3 465.7 73.3 468 73.2 470.2 73.2 472.5 73.2 474.7 73.2 477 73.1 479.2 73.1 481.5 73 483.7 73 486 73 488.2 72.9 490.5 72.9" fill="none" stroke="#6a6466" stroke-width="1.05" stroke-linejoin="round"/>
<path d="M132.5 80.3H490.7" stroke="#3a3a3a" stroke-width="1.4" fill="none"/>
<rect x="132.5" y="8.2" width="358.2" height="333.2" fill="none" stroke="#4a4a4a" stroke-width="1.4"/>
<path d="M132.5 154.6h4M132.5 228.9h4M132.5 303.2h4M222 341.4v-4M311.5 341.4v-4M401 341.4v-4" stroke="#4a4a4a" stroke-width="1.3" fill="none"/>
<text transform="translate(127 87.5) scale(0.88 1)" font-family="'Liberation Sans',Arial,sans-serif" font-size="24" text-anchor="end" fill="#1a1a1a" stroke="#1a1a1a" stroke-width="0.3">0</text>
<text transform="translate(127 161.8) scale(0.88 1)" font-family="'Liberation Sans',Arial,sans-serif" font-size="24" text-anchor="end" fill="#1a1a1a" stroke="#1a1a1a" stroke-width="0.3">-30</text>
<text transform="translate(127 236.1) scale(0.88 1)" font-family="'Liberation Sans',Arial,sans-serif" font-size="24" text-anchor="end" fill="#1a1a1a" stroke="#1a1a1a" stroke-width="0.3">-60</text>
<text transform="translate(127 310.4) scale(0.88 1)" font-family="'Liberation Sans',Arial,sans-serif" font-size="24" text-anchor="end" fill="#1a1a1a" stroke="#1a1a1a" stroke-width="0.3">-90</text>
<text transform="translate(132.5 365) scale(0.9 1)" font-family="'Liberation Sans',Arial,sans-serif" font-size="24" text-anchor="middle" fill="#1a1a1a" stroke="#1a1a1a" stroke-width="0.3">-0.4</text>
<text transform="translate(222 365) scale(0.9 1)" font-family="'Liberation Sans',Arial,sans-serif" font-size="24" text-anchor="middle" fill="#1a1a1a" stroke="#1a1a1a" stroke-width="0.3">-0.2</text>
<text transform="translate(311.5 365) scale(0.9 1)" font-family="'Liberation Sans',Arial,sans-serif" font-size="24" text-anchor="middle" fill="#1a1a1a" stroke="#1a1a1a" stroke-width="0.3">0.0</text>
<text transform="translate(401 365) scale(0.9 1)" font-family="'Liberation Sans',Arial,sans-serif" font-size="24" text-anchor="middle" fill="#1a1a1a" stroke="#1a1a1a" stroke-width="0.3">0.2</text>
<text transform="translate(490.5 365) scale(0.9 1)" font-family="'Liberation Sans',Arial,sans-serif" font-size="24" text-anchor="middle" fill="#1a1a1a" stroke="#1a1a1a" stroke-width="0.3">0.4</text>
<text transform="translate(318 406) scale(0.925 1)" font-family="'Liberation Sans',Arial,sans-serif" font-size="26.5" text-anchor="middle" fill="#1a1a1a" stroke="#1a1a1a" stroke-width="0.3">Magnetic Field <tspan font-style="italic">B</tspan> (T)</text>
<text transform="translate(78.5 177.5) rotate(-90) scale(1.035 1)" font-family="'Liberation Sans',Arial,sans-serif" font-size="26" text-anchor="middle" fill="#1a1a1a" stroke="#1a1a1a" stroke-width="0.3">Bend Resistance <tspan font-style="italic">R</tspan><tspan font-size="15" dy="6">B</tspan><tspan dy="-6"> (Ohm)</tspan></text>
<text transform="translate(171 184) scale(0.93 1)" font-family="'Liberation Sans',Arial,sans-serif" font-size="22.5" text-anchor="start" fill="#1a1a1a" stroke="#1a1a1a" stroke-width="0.3">V<tspan font-size="16" dy="8">g</tspan><tspan dy="-8"> = 3 V</tspan></text>
<text transform="translate(-3 26.5)" font-family="'Liberation Sans',Arial,sans-serif" font-size="35.5" text-anchor="start" fill="#111">(a)</text>
</g>
<g id="pa2">
<g clip-path="url(#a2c)">
<rect x="568" y="12" width="228" height="328" fill="#1661a9"/>
<g>
<g filter="url(#a2b)"><g filter="url(#a2n)">
<rect x="566" y="10" width="89" height="130" fill="url(#a2g1)"/>
<rect x="566" y="206" width="88" height="136" fill="url(#a2g2)"/>
<rect x="721" y="10" width="77" height="131" fill="url(#a2g3)"/>
<rect x="720" y="206" width="78" height="136" fill="url(#a2g4)"/>
</g></g>
<path d="M568 141.5H654M722 141.5H796M568 204.5H654M722 204.5H796M655.5 69V140M720.5 69V140M655.5 206V280M720.5 206V280" stroke="#2f7fc0" stroke-opacity="0.55" stroke-width="1.6" fill="none" filter="url(#a2b)"/>
</g></g>
<text transform="translate(687 107) scale(0.93 1)" font-family="'Liberation Sans',Arial,sans-serif" font-size="31" text-anchor="middle" fill="#fff" stroke="#fff" stroke-width="0.9">3</text>
<text transform="translate(610.5 187) scale(0.93 1)" font-family="'Liberation Sans',Arial,sans-serif" font-size="31" text-anchor="middle" fill="#fff" stroke="#fff" stroke-width="0.9">2</text>
<text transform="translate(757 186) scale(0.93 1)" font-family="'Liberation Sans',Arial,sans-serif" font-size="31" text-anchor="middle" fill="#fff" stroke="#fff" stroke-width="0.9">4</text>
<text transform="translate(686 259.5) scale(0.93 1)" font-family="'Liberation Sans',Arial,sans-serif" font-size="31" text-anchor="middle" fill="#fff" stroke="#fff" stroke-width="0.9">1</text>
<path d="M683 28.5H842.5V83M842.5 117V173.5H781M552 176H587M535 193V214.5M525 214.5H545M681 305V325M671 325.5H691" stroke="#222" stroke-width="1.4" fill="none"/>
<circle cx="842.5" cy="100" r="16.5" fill="#fff" stroke="#222" stroke-width="1.4"/>
<circle cx="535" cy="176" r="16.5" fill="#fff" stroke="#222" stroke-width="1.4"/>
<circle cx="683" cy="28.5" r="3.3" fill="#111"/>
<circle cx="781" cy="173.5" r="3.3" fill="#111"/>
<circle cx="587" cy="176" r="3.3" fill="#111"/>
<circle cx="681" cy="305" r="3.3" fill="#111"/>
<text transform="translate(842.5 108.5) scale(0.95 1)" font-family="'Liberation Sans',Arial,sans-serif" font-size="23" text-anchor="middle" fill="#222">V</text>
<text transform="translate(535 184.5)" font-family="'Liberation Sans',Arial,sans-serif" font-size="23" text-anchor="middle" fill="#222">I</text>
</g>
<g id="pb">
<clipPath id="bIc"><rect x="473.3" y="903.3" width="220.5" height="216.5"/></clipPath>
<linearGradient id="bcb" x1="0" y1="0" x2="1" y2="0"><stop offset="0%" stop-color="#3a3a9c"/><stop offset="5%" stop-color="#3150b2"/><stop offset="10%" stop-color="#3478ca"/><stop offset="15%" stop-color="#2eaa90"/><stop offset="20%" stop-color="#40b468"/><stop offset="25%" stop-color="#5cba64"/><stop offset="30%" stop-color="#90c878"/><stop offset="35%" stop-color="#cadc84"/><stop offset="40%" stop-color="#f0ee88"/><stop offset="45%" stop-color="#e0c874"/><stop offset="50%" stop-color="#c8a468"/><stop offset="55%" stop-color="#aa7c5c"/><stop offset="60%" stop-color="#8c6050"/><stop offset="65%" stop-color="#9c7064"/><stop offset="70%" stop-color="#b08a80"/><stop offset="75%" stop-color="#c09c94"/><stop offset="80%" stop-color="#d2b4ae"/><stop offset="85%" stop-color="#e0cccc"/><stop offset="90%" stop-color="#ece4e4"/><stop offset="95%" stop-color="#f8f4f4"/><stop offset="100%" stop-color="#ffffff"/></linearGradient>
<rect x="164.5" y="573.8" width="171" height="15.4" fill="url(#bcb)" stroke="#222" stroke-width="1.3"/>
<path d="M170.5 568.5V574M220.5 568.5V574M271 568.5V574M321.8 568.5V574" stroke="#222" stroke-width="1.2" fill="none"/>
<text transform="translate(169.5 559.3)" font-family="'DejaVu Sans','Liberation Sans',sans-serif" font-size="19.5" text-anchor="middle" fill="#34363c">0</text>
<text transform="translate(220.5 559.3)" font-family="'DejaVu Sans','Liberation Sans',sans-serif" font-size="19.5" text-anchor="middle" fill="#34363c">40</text>
<text transform="translate(271 559.3)" font-family="'DejaVu Sans','Liberation Sans',sans-serif" font-size="19.5" text-anchor="middle" fill="#34363c">80</text>
<text transform="translate(320 559.3)" font-family="'DejaVu Sans','Liberation Sans',sans-serif" font-size="19.5" text-anchor="middle" fill="#34363c">120</text>
<text transform="translate(250 526) scale(1.05 1)" font-family="'DejaVu Sans','Liberation Sans',sans-serif" font-size="20.5" text-anchor="middle" fill="#34363c"><tspan font-style="italic">V</tspan><tspan font-size="13" dy="5">c</tspan><tspan dy="-5">/</tspan><tspan font-style="italic">I</tspan><tspan font-size="13" dy="5">i</tspan><tspan dy="-5"> (Ω)</tspan></text>
<rect x="352" y="528" width="79.7" height="29.5" fill="#eaa6cb"/>
<rect x="366.5" y="557" width="6.5" height="11" fill="#eaa6cb" opacity="0.85"/><rect x="413" y="557" width="6.5" height="11" fill="#eaa6cb" opacity="0.85"/>
<path d="M349 557.5H365.5V569M373.5 569V557.5H412V569M420 569V557.5H435" stroke="#3a3a3a" stroke-width="1.2" fill="none"/>
<rect x="445.4" y="528" width="79.7" height="29.5" fill="#bfe4f8"/>
<rect x="459.9" y="557" width="6.5" height="11" fill="#bfe4f8" opacity="0.85"/><rect x="506.4" y="557" width="6.5" height="11" fill="#bfe4f8" opacity="0.85"/>
<path d="M442.4 557.5H458.9V569M466.9 569V557.5H505.4V569M513.4 569V557.5H528.4" stroke="#3a3a3a" stroke-width="1.2" fill="none"/>
<rect x="539.2" y="528" width="79.7" height="29.5" fill="#bfe4f8"/>
<rect x="553.7" y="557" width="6.5" height="11" fill="#bfe4f8" opacity="0.85"/><rect x="600.2" y="557" width="6.5" height="11" fill="#bfe4f8" opacity="0.85"/>
<path d="M536.2 557.5H552.7V569M560.7 569V557.5H599.2V569M607.2 569V557.5H622.2" stroke="#3a3a3a" stroke-width="1.2" fill="none"/>
<rect x="633" y="528" width="79.7" height="29.5" fill="#bfe4f8"/>
<rect x="647.5" y="557" width="6.5" height="11" fill="#bfe4f8" opacity="0.85"/><rect x="694" y="557" width="6.5" height="11" fill="#bfe4f8" opacity="0.85"/>
<path d="M630 557.5H646.5V569M654.5 569V557.5H693V569M701 569V557.5H716" stroke="#3a3a3a" stroke-width="1.2" fill="none"/>
<path d="M369.5 557C369 545 364 537 357 533" stroke="#111" stroke-width="1.5" fill="none"/><path d="M354.5 531.5L362.5 532 358.5 535 358 540Z" fill="#111"/>
<path d="M462.5 557A22.5 22.5 0 0 1 507.5 557" stroke="#2b3f9e" stroke-width="1.5" fill="none"/><path d="M489 534.5L480.5 530.8 482.5 534.8 480.5 538.5Z" fill="#2b3f9e"/>
<path d="M556 557A11.3 11.3 0 0 1 578.6 557A11.3 11.3 0 0 1 601.2 557" stroke="#b03070" stroke-width="1.5" fill="none"/><path d="M572 545L564.5 541.5 566.5 545.5 565 549Z M594.5 545L587 541.5 589 545.5 587.5 549Z" fill="#b03070"/>
<path d="M650.5 557A7.6 7.6 0 0 1 665.7 557A7.6 7.6 0 0 1 680.9 557A7.6 7.6 0 0 1 696.1 557" stroke="#9a8f3a" stroke-width="1.5" fill="none"/><path d="M661 549.5L655 546.5 656.5 550 655.5 553Z M676.5 549.5L670.5 546.5 672 550 671 553Z M691.5 549.5L685.5 546.5 687 550 686 553Z" fill="#9a8f3a"/>
<path d="M392 562.5V589" stroke="#111" stroke-width="1.5" fill="none"/><path d="M392 596.5L387.2 586L392 588.5L396.8 586Z" fill="#111"/>
<path d="M483.1 562.5V589" stroke="#2b3f9e" stroke-width="1.5" fill="none"/><path d="M483.1 596.5L478.3 586L483.1 588.5L487.9 586Z" fill="#2b3f9e"/>
<path d="M578.2 563V575.8H522.5V589" stroke="#b03070" stroke-width="1.5" fill="none"/><path d="M522.5 596.5L517.7 586L522.5 588.5L527.3 586Z" fill="#b03070"/>
<path d="M673.5 563V582.7H559.6V589" stroke="#9a8f3a" stroke-width="1.5" fill="none"/><path d="M559.6 596.5L554.8 586L559.6 588.5L564.4 586Z" fill="#9a8f3a"/>
<g filter="url(#bM)"><g clip-path="url(#bC)">
<rect x="169" y="604" width="542" height="534" fill="#111111"/>
<rect x="169" y="604" width="280" height="268" fill="url(#bgc)"/>
<rect x="169" y="604" width="280" height="268" fill="url(#bgl)"/>
<g filter="url(#bB1)">
<path d="M165.7 579.3 176.1 589.2 186.5 599.2 196.9 609.2 207.2 619.2 217.6 629.3 228 639.4 238.4 649.6 248.8 659.8 259.2 670.1 269.6 680.5 280 690.9 290.4 701.4 300.7 711.9 311.1 722.6 321.5 733.3 331.9 744.1 342.3 755 352.7 766 363.1 777.2 373.4 788.5 383.8 800 394.2 811.7 404.6 823.7 415 836.1 415 841.2 404.6 829.2 394.2 817.5 383.8 806 373.4 794.8 363.1 783.7 352.7 772.8 342.3 762 331.9 751.4 321.5 740.8 311.1 730.3 300.7 720 290.4 709.6 280 699.4 269.6 689.2 259.2 679.1 248.8 669.1 238.4 659.1 228 649.1 217.6 639.2 207.2 629.4 196.9 619.6 186.5 609.8 176.1 600.1 165.7 590.4Z" fill="url(#bs0)"/>
<path d="M165.7 600.6 176.1 609.8 186.5 619 196.9 628.3 207.2 637.6 217.6 646.9 228 656.3 238.4 665.7 248.8 675.2 259.2 684.8 269.6 694.4 280 704 290.4 713.7 300.7 723.5 311.1 733.3 321.5 743.3 331.9 753.3 342.3 763.4 352.7 773.6 363.1 784 373.4 794.5 383.8 805.1 394.2 816 404.6 827.1 415 838.5 415 843.7 404.6 832.6 394.2 821.7 383.8 811.1 373.4 800.7 363.1 790.5 352.7 780.4 342.3 770.5 331.9 760.6 321.5 750.8 311.1 741.1 300.7 731.5 290.4 722 280 712.5 269.6 703.1 259.2 693.8 248.8 684.5 238.4 675.2 228 666 217.6 656.9 207.2 647.8 196.9 638.7 186.5 629.7 176.1 620.7 165.7 611.7Z" fill="url(#bs1)"/>
<path d="M165.7 617.3 176.1 626 186.5 634.7 196.9 643.4 207.2 652.1 217.6 660.9 228 669.8 238.4 678.7 248.8 687.6 259.2 696.6 269.6 705.6 280 714.7 290.4 723.8 300.7 733 311.1 742.3 321.5 751.7 331.9 761.1 342.3 770.6 352.7 780.3 363.1 790 373.4 799.9 383.8 809.9 394.2 820.1 404.6 830.6 415 841.4 415 844.2 404.6 833.6 394.2 823.3 383.8 813.2 373.4 803.3 363.1 793.6 352.7 784 342.3 774.5 331.9 765.1 321.5 755.8 311.1 746.6 300.7 737.4 290.4 728.3 280 719.3 269.6 710.4 259.2 701.5 248.8 692.6 238.4 683.8 228 675.1 217.6 666.4 207.2 657.7 196.9 649.1 186.5 640.5 176.1 631.9 165.7 623.4Z" fill="url(#bs2)"/>
<path d="M165.7 626.5 176.1 634.8 186.5 643.1 196.9 651.5 207.2 659.9 217.6 668.3 228 676.8 238.4 685.3 248.8 693.9 259.2 702.5 269.6 711.1 280 719.9 290.4 728.6 300.7 737.5 311.1 746.4 321.5 755.3 331.9 764.4 342.3 773.5 352.7 782.7 363.1 792.1 373.4 801.6 383.8 811.2 394.2 821 404.6 831 415 841.4 415 847 404.6 837 394.2 827.2 383.8 817.7 373.4 808.4 363.1 799.2 352.7 790.2 342.3 781.2 331.9 772.3 321.5 763.6 311.1 754.9 300.7 746.2 290.4 737.7 280 729.2 269.6 720.7 259.2 712.3 248.8 703.9 238.4 695.6 228 687.4 217.6 679.2 207.2 671 196.9 662.8 186.5 654.7 176.1 646.6 165.7 638.6Z" fill="url(#bs3)"/>
<path d="M165.7 643.7 176.1 651.4 186.5 659.2 196.9 667 207.2 674.9 217.6 682.8 228 690.7 238.4 698.7 248.8 706.7 259.2 714.7 269.6 722.8 280 730.9 290.4 739.1 300.7 747.4 311.1 755.7 321.5 764.1 331.9 772.5 342.3 781 352.7 789.7 363.1 798.4 373.4 807.2 383.8 816.2 394.2 825.4 404.6 834.8 415 844.4 415 847.2 404.6 837.7 394.2 828.5 383.8 819.5 373.4 810.7 363.1 802 352.7 793.4 342.3 784.9 331.9 776.5 321.5 768.2 311.1 759.9 300.7 751.7 290.4 743.6 280 735.6 269.6 727.6 259.2 719.6 248.8 711.7 238.4 703.8 228 696 217.6 688.2 207.2 680.4 196.9 672.7 186.5 665 176.1 657.4 165.7 649.7Z" fill="url(#bs4)"/>
<path d="M165.7 654.1 176.1 661.4 186.5 668.8 196.9 676.2 207.2 683.6 217.6 691.1 228 698.6 238.4 706.2 248.8 713.8 259.2 721.4 269.6 729.1 280 736.8 290.4 744.6 300.7 752.4 311.1 760.3 321.5 768.2 331.9 776.2 342.3 784.3 352.7 792.5 363.1 800.8 373.4 809.2 383.8 817.7 394.2 826.4 404.6 835.3 415 844.4 415 850.4 404.6 841.6 394.2 833 383.8 824.7 373.4 816.5 363.1 808.4 352.7 800.4 342.3 792.5 331.9 784.7 321.5 777 311.1 769.3 300.7 761.7 290.4 754.2 280 746.7 269.6 739.3 259.2 731.9 248.8 724.5 238.4 717.2 228 709.9 217.6 702.7 207.2 695.5 196.9 688.3 186.5 681.2 176.1 674.1 165.7 667Z" fill="url(#bs5)"/>
<path d="M165.7 674.6 176.1 681.3 186.5 688.1 196.9 694.8 207.2 701.6 217.6 708.4 228 715.3 238.4 722.1 248.8 729.1 259.2 736 269.6 743 280 750 290.4 757.1 300.7 764.3 311.1 771.4 321.5 778.7 331.9 786 342.3 793.4 352.7 800.8 363.1 808.4 373.4 816 383.8 823.8 394.2 831.7 404.6 839.8 415 848.2 415 850.5 404.6 842.3 394.2 834.3 383.8 826.5 373.4 818.9 363.1 811.4 352.7 803.9 342.3 796.6 331.9 789.3 321.5 782.1 311.1 775 300.7 767.9 290.4 760.9 280 753.9 269.6 747 259.2 740.1 248.8 733.3 238.4 726.5 228 719.7 217.6 712.9 207.2 706.2 196.9 699.5 186.5 692.9 176.1 686.3 165.7 679.7Z" fill="url(#bs6)"/>
<path d="M165.7 685.5 176.1 691.8 186.5 698.1 196.9 704.4 207.2 710.8 217.6 717.2 228 723.6 238.4 730 248.8 736.5 259.2 743 269.6 749.6 280 756.1 290.4 762.8 300.7 769.5 311.1 776.2 321.5 783 331.9 789.8 342.3 796.7 352.7 803.7 363.1 810.8 373.4 818 383.8 825.2 394.2 832.6 404.6 840.2 415 848.1 415 854.1 404.6 846.6 394.2 839.3 383.8 832.2 373.4 825.2 363.1 818.4 352.7 811.6 342.3 804.9 331.9 798.3 321.5 791.8 311.1 785.3 300.7 778.8 290.4 772.4 280 766.1 269.6 759.7 259.2 753.5 248.8 747.2 238.4 741 228 734.9 217.6 728.7 207.2 722.6 196.9 716.5 186.5 710.5 176.1 704.4 165.7 698.4Z" fill="url(#bs7)"/>
<path d="M165.7 718.4 176.1 723.5 186.5 728.7 196.9 733.9 207.2 739.1 217.6 744.4 228 749.6 238.4 754.9 248.8 760.2 259.2 765.6 269.6 771 280 776.4 290.4 781.8 300.7 787.3 311.1 792.8 321.5 798.4 331.9 804 342.3 809.7 352.7 815.4 363.1 821.3 373.4 827.1 383.8 833.1 394.2 839.2 404.6 845.4 415 851.9 415 857.9 404.6 851.8 394.2 845.9 383.8 840.1 373.4 834.4 363.1 828.9 352.7 823.3 342.3 817.9 331.9 812.5 321.5 807.2 311.1 801.9 300.7 796.7 290.4 791.5 280 786.3 269.6 781.2 259.2 776.1 248.8 771 238.4 765.9 228 760.9 217.6 755.9 207.2 751 196.9 746 186.5 741.1 176.1 736.2 165.7 731.3Z" fill="url(#bs8)"/>
<path d="M165.7 748.1 176.1 752.2 186.5 756.4 196.9 760.6 207.2 764.7 217.6 768.9 228 773.2 238.4 777.4 248.8 781.7 259.2 786 269.6 790.3 280 794.7 290.4 799 300.7 803.4 311.1 807.9 321.5 812.3 331.9 816.8 342.3 821.4 352.7 826 363.1 830.7 373.4 835.4 383.8 840.2 394.2 845.1 404.6 850.1 415 855.2 415 861.4 404.6 856.6 394.2 852 383.8 847.4 373.4 842.9 363.1 838.5 352.7 834.2 342.3 829.9 331.9 825.6 321.5 821.4 311.1 817.2 300.7 813.1 290.4 809 280 804.9 269.6 800.8 259.2 796.8 248.8 792.8 238.4 788.8 228 784.8 217.6 780.9 207.2 777 196.9 773 186.5 769.1 176.1 765.3 165.7 761.4Z" fill="url(#bs9)"/>
<path d="M165.7 775.1 176.1 778.3 186.5 781.5 196.9 784.8 207.2 788 217.6 791.3 228 794.6 238.4 797.9 248.8 801.3 259.2 804.6 269.6 808 280 811.4 290.4 814.8 300.7 818.2 311.1 821.7 321.5 825.1 331.9 828.7 342.3 832.2 352.7 835.8 363.1 839.4 373.4 843.1 383.8 846.8 394.2 850.7 404.6 854.5 415 858.6 415 864.2 404.6 860.5 394.2 856.9 383.8 853.4 373.4 849.9 363.1 846.5 352.7 843.2 342.3 839.9 331.9 836.6 321.5 833.4 311.1 830.2 300.7 827 290.4 823.8 280 820.7 269.6 817.5 259.2 814.4 248.8 811.3 238.4 808.3 228 805.2 217.6 802.2 207.2 799.1 196.9 796.1 186.5 793.1 176.1 790.1 165.7 787.2Z" fill="url(#bs10)"/>
<path d="M165.7 801.4 176.1 803.8 186.5 806.1 196.9 808.5 207.2 810.8 217.6 813.2 228 815.6 238.4 818 248.8 820.4 259.2 822.8 269.6 825.2 280 827.7 290.4 830.1 300.7 832.6 311.1 835.1 321.5 837.6 331.9 840.2 342.3 842.7 352.7 845.3 363.1 848 373.4 850.6 383.8 853.3 394.2 856.1 404.6 858.9 415 861.8 415 867 404.6 864.4 394.2 861.8 383.8 859.3 373.4 856.9 363.1 854.5 352.7 852.1 342.3 849.8 331.9 847.5 321.5 845.2 311.1 842.9 300.7 840.6 290.4 838.4 280 836.2 269.6 834 259.2 831.8 248.8 829.6 238.4 827.4 228 825.3 217.6 823.1 207.2 821 196.9 818.9 186.5 816.7 176.1 814.6 165.7 812.5Z" fill="url(#bs11)"/>
<path d="M165.7 828.3 176.1 829.7 186.5 831.1 196.9 832.6 207.2 834 217.6 835.4 228 836.9 238.4 838.3 248.8 839.8 259.2 841.3 269.6 842.7 280 844.2 290.4 845.7 300.7 847.2 311.1 848.7 321.5 850.3 331.9 851.8 342.3 853.4 352.7 854.9 363.1 856.5 373.4 858.1 383.8 859.8 394.2 861.4 404.6 863.1 415 864.9 415 870.1 404.6 868.6 394.2 867.2 383.8 865.8 373.4 864.4 363.1 863.1 352.7 861.7 342.3 860.4 331.9 859.1 321.5 857.8 311.1 856.5 300.7 855.3 290.4 854 280 852.7 269.6 851.5 259.2 850.3 248.8 849 238.4 847.8 228 846.6 217.6 845.4 207.2 844.2 196.9 843 186.5 841.8 176.1 840.6 165.7 839.4Z" fill="url(#bs12)"/>
</g>
<rect x="170" y="605" width="272" height="262" fill="#fff" opacity="0.05" filter="url(#bN3)"/>
<path d="M169 846L300 852 440 862V869L300 870 169 864Z" fill="#000" opacity="0.55" filter="url(#bB1)"/>
<rect x="446" y="604" width="265" height="292" fill="#000" opacity="0.7"/>
<path d="M446 896V1137H398L405 1030 415 960 430 888 440 872Z" fill="#000" opacity="0.7"/>
<rect x="486" y="605" width="225" height="262" fill="url(#bn1)" filter="url(#bN1)"/>
<path d="M446 605H552L540 665 528 725 512 790 482 845 462 868H446Z" fill="#000" opacity="0.75"/>
<path d="M470 872L560 852 640 838 712 828V868L560 874Z" fill="url(#bn3)"/>
<path d="M470 872L560 857 640 848 712 842V868L560 874Z" fill="url(#bn4)"/>
<path d="M169 906L230 900 282 891 330 880 352 875 425 884 412 960 402 1040 394 1137H169Z" fill="#000" opacity="0.72"/>
<path d="M169 906L230 900 282 891 330 880 352 875 425 884 412 960 402 1040 394 1137H169Z" fill="#fff" opacity="0.1" filter="url(#bN4)"/>
<path d="M169 906L230 900 282 891 330 880 352 875 425 884 412 960 402 1040 394 1137H169Z" fill="url(#bn2)" filter="url(#bN2)"/>
<path d="M169 906L230 900 282 891 330 880 352 875 400 882 330 905 250 925 169 940Z" fill="url(#bn5)" filter="url(#bN2)"/>
<rect x="446" y="896" width="20" height="240" fill="#fff" opacity="0.16" filter="url(#bN2)"/>
<g filter="url(#bB1)">
<path d="M437 605 436.3 625.2 436 645.5 436.1 665.7 437 685.9 438.4 706.2 439.2 726.4 439.6 746.6 439.9 766.8 439.9 787.1 438.9 807.3 438 827.5 438.5 847.8 440 868" fill="none" stroke="#fff" stroke-opacity="0.11" stroke-width="7" stroke-linecap="round"/>
<path d="M441.5 888 441.3 907.1 441.1 926.2 441 945.2 441 964.3 441.1 983.4 441.3 1002.5 441.4 1021.5 441.5 1040.6 441.5 1059.7 441.4 1078.8 441.3 1097.8 441.2 1116.9 441 1136" fill="none" stroke="#fff" stroke-opacity="0.18" stroke-width="3.2" stroke-linecap="round"/>
</g>
<g filter="url(#bB2)">
<path d="M549 605 545.6 623.8 542 642.7 538.5 661.5 534.8 680.4 531.2 699.2 527.5 718 523.3 736.9 519.2 755.7 514.5 774.5 508.7 793.4 500.7 812.2 489.9 831.1 477.2 849.9" fill="none" stroke="#fff" stroke-opacity="0.34" stroke-width="4.5" stroke-linecap="round"/>
<path d="M517.4 605 514.8 625.1 512 645.2 508.8 665.3 505.4 685.4 501.7 705.5 497.6 725.6 493.4 745.8 489.3 765.9 484.9 786 479.8 806.1 473.6 826.2 466.4 846.3 458.3 866.4" fill="none" stroke="#fff" stroke-opacity="0.48" stroke-width="5" stroke-linecap="round"/>
<path d="M517.4 605 514.8 625.1 512 645.2 508.8 665.3 505.4 685.4 501.7 705.5 497.6 725.6 493.4 745.8 489.3 765.9 484.9 786 479.8 806.1 473.6 826.2 466.4 846.3 458.3 866.4" fill="none" stroke="#fff" stroke-opacity="0.59" stroke-width="1.6" stroke-linecap="round" stroke-dasharray="8 7"/>
<path d="M480.8 802.6 479.4 807 478 811.4 476.5 815.8 475 820.3 473.5 824.7 472 829.1 470.5 833.5 469 837.9 467.4 842.3 465.8 846.8 464.2 851.2 462.6 855.6 461 860" fill="none" stroke="#fff" stroke-opacity="1.00" stroke-width="3.4" stroke-linecap="round"/>
<path d="M484.3 605 482.8 625.3 481.1 645.6 479.3 665.9 477.3 686.2 475.1 706.5 472.7 726.8 470.1 747 467.2 767.3 464 787.6 460.4 807.9 456.5 828.2 452.3 848.5 447.7 868.8" fill="none" stroke="#fff" stroke-opacity="0.54" stroke-width="5.4" stroke-linecap="round"/>
<path d="M484.3 605 482.8 625.3 481.1 645.6 479.3 665.9 477.3 686.2 475.1 706.5 472.7 726.8 470.1 747 467.2 767.3 464 787.6 460.4 807.9 456.5 828.2 452.3 848.5 447.7 868.8" fill="none" stroke="#fff" stroke-opacity="1.00" stroke-width="3.3" stroke-linecap="round"/>
<path d="M355 1021 353.9 1029.8 352.4 1038.7 350.8 1047.5 348.9 1056.4 346.9 1065.2 344.7 1074.1 342.1 1082.9 339.3 1091.8 336.2 1100.6 332.7 1109.5 329.1 1118.3 325.1 1127.2 321 1136" fill="none" stroke="#fff" stroke-opacity="0.34" stroke-width="4.5" stroke-linecap="round"/>
<path d="M414 898.9 404.2 917.1 396.1 935.4 390.4 953.6 386.4 971.9 383.2 990.1 380.1 1008.3 376.9 1026.6 374 1044.8 371.1 1063 368.3 1081.3 365.5 1099.5 362.9 1117.8 360.3 1136" fill="none" stroke="#fff" stroke-opacity="0.40" stroke-width="5" stroke-linecap="round"/>
<path d="M414 898.9 404.2 917.1 396.1 935.4 390.4 953.6 386.4 971.9 383.2 990.1 380.1 1008.3 376.9 1026.6 374 1044.8 371.1 1063 368.3 1081.3 365.5 1099.5 362.9 1117.8 360.3 1136" fill="none" stroke="#fff" stroke-opacity="0.51" stroke-width="1.6" stroke-linecap="round" stroke-dasharray="7 8"/>
<path d="M428.8 886.6 424.4 905.8 420.4 925 416.7 944.2 413.5 963.3 410.6 982.5 407.9 1001.7 405.6 1020.9 403.6 1040.1 401.7 1059.3 399.9 1078.4 398.3 1097.6 396.9 1116.8 395.8 1136" fill="none" stroke="#fff" stroke-opacity="0.48" stroke-width="5.4" stroke-linecap="round"/>
<path d="M428.8 886.6 424.4 905.8 420.4 925 416.7 944.2 413.5 963.3 410.6 982.5 407.9 1001.7 405.6 1020.9 403.6 1040.1 401.7 1059.3 399.9 1078.4 398.3 1097.6 396.9 1116.8 395.8 1136" fill="none" stroke="#fff" stroke-opacity="1.00" stroke-width="3.3" stroke-linecap="round"/>
<path d="M405 900 402.8 904.6 400.5 909.2 398.2 913.8 395.9 918.5 393.5 923.1 391.2 927.7 388.8 932.3 386.4 936.9 384 941.5 381.5 946.2 379 950.8 376.5 955.4 374 960" fill="none" stroke="#fff" stroke-opacity="0.40" stroke-width="3" stroke-linecap="round" stroke-dasharray="6 5"/>
</g>
<path d="M430 874L560 878 715 888V898H466L440 888Z" fill="#000" opacity="0.9"/>
<g filter="url(#bB2)">
<path d="M165 863.5L230 865.5 282 868 330 871.5 352 874 330 880 282 891.5 230 900 165 908Z" fill="#fff"/>
<path d="M352 874L300 884 282 890" stroke="#808080" stroke-width="2.5" stroke-dasharray="3 2.5" fill="none"/>
<path d="M170 889H235" stroke="#a0a0a0" stroke-width="1" stroke-dasharray="4 3" fill="none"/>
<path d="M548 872.5L600 868.5 660 866 715 864.5V886.5L680 884 630 880 590 876.5Z" fill="#fff"/>
<path d="M470 869L548 872.5 560 874.5 500 874Z" fill="#fff" opacity="0.3"/>
</g>
<rect x="704.2" y="897" width="6" height="240" fill="#fff" opacity="0.6" filter="url(#bN1)"/>
<rect x="460" y="1129" width="250" height="8" fill="#fff" opacity="0.4" filter="url(#bN2)"/>
</g></g>
<rect x="465.4" y="897.4" width="238.8" height="231.6" fill="#fff"/>
<g clip-path="url(#bIc)">
<rect x="473" y="903" width="221" height="217" fill="#3e76a6"/>
<path d="M625.3 925.5 654.4 953.5 648.1 963.9 621.1 993 604.5 1013.8 587.9 1042.8 538.1 1107.2 499.7 1078.1 538.1 1017.9 579.6 972.2Z" fill="#7699c8"/>
<path d="M496.5 893.3 527.7 924.5 563 957.7" transform="translate(-2 2.2)" fill="none" stroke="#2a2f1e" stroke-width="28" stroke-linecap="round" stroke-linejoin="round"/><path d="M463.3 951.5 496.5 978.5 527.7 1004.4" transform="translate(-2 2.2)" fill="none" stroke="#2a2f1e" stroke-width="27" stroke-linecap="round" stroke-linejoin="round"/><path d="M619.1 893.3 652.3 922.4 680.3 945.2" transform="translate(-2 2.2)" fill="none" stroke="#2a2f1e" stroke-width="27" stroke-linecap="round" stroke-linejoin="round"/><path d="M704.2 1037.6 671 1035.6 650.2 1026.2 637.8 1014.8" transform="translate(-2 2.2)" fill="none" stroke="#2a2f1e" stroke-width="26" stroke-linecap="round" stroke-linejoin="round"/><path d="M704.2 1101 662.7 1092.7 627.4 1078.1 600.4 1062.6" transform="translate(-2 2.2)" fill="none" stroke="#2a2f1e" stroke-width="27" stroke-linecap="round" stroke-linejoin="round"/><path d="M463.3 1074 496.5 1098.9 529.8 1125.9" transform="translate(-2 2.2)" fill="none" stroke="#2a2f1e" stroke-width="27" stroke-linecap="round" stroke-linejoin="round"/>
<g filter="url(#bGt)"><path d="M496.5 893.3 527.7 924.5 563 957.7" fill="none" stroke="#bdb65e" stroke-width="28" stroke-linecap="round" stroke-linejoin="round"/><path d="M463.3 951.5 496.5 978.5 527.7 1004.4" fill="none" stroke="#bdb65e" stroke-width="27" stroke-linecap="round" stroke-linejoin="round"/><path d="M619.1 893.3 652.3 922.4 680.3 945.2" fill="none" stroke="#bdb65e" stroke-width="27" stroke-linecap="round" stroke-linejoin="round"/><path d="M704.2 1037.6 671 1035.6 650.2 1026.2 637.8 1014.8" fill="none" stroke="#bdb65e" stroke-width="26" stroke-linecap="round" stroke-linejoin="round"/><path d="M704.2 1101 662.7 1092.7 627.4 1078.1 600.4 1062.6" fill="none" stroke="#bdb65e" stroke-width="27" stroke-linecap="round" stroke-linejoin="round"/><path d="M463.3 1074 496.5 1098.9 529.8 1125.9" fill="none" stroke="#bdb65e" stroke-width="27" stroke-linecap="round" stroke-linejoin="round"/></g>
</g>
<path d="M514.2 919.3H568.2M586.9 919.3H647.1" stroke="#fff" stroke-width="1.3" fill="none"/><circle cx="577.5" cy="919.3" r="9" fill="none" stroke="#fff" stroke-width="1.5"/><circle cx="514.2" cy="919.3" r="2.6" fill="#e8e0d0" stroke="#fff" stroke-width="0.8"/><circle cx="647.1" cy="919.3" r="2.6" fill="#e8e0d0" stroke="#fff" stroke-width="0.8"/><text transform="translate(577.5 923.3)" font-family="'DejaVu Sans','Liberation Sans',sans-serif" font-size="11.5" text-anchor="middle" fill="#fff">V</text><path d="M489.9 973.3V1021M489.9 1049.1V1091.6" stroke="#fff" stroke-width="1.3" fill="none"/><circle cx="489.9" cy="1030.4" r="9.3" fill="none" stroke="#fff" stroke-width="1.5"/><circle cx="489.9" cy="1039.7" r="9.3" fill="none" stroke="#fff" stroke-width="1.5"/><circle cx="489.9" cy="973.3" r="2.6" fill="#e8e0d0" stroke="#fff" stroke-width="0.8"/><circle cx="489.9" cy="1091.6" r="2.6" fill="#e8e0d0" stroke="#fff" stroke-width="0.8"/><path d="M577.6 973.4L545.2 1010.5" stroke="#fff" stroke-width="1.4" fill="none"/><path d="M579.6 971.2L571.7 975.2L576 975.3L576.7 979.6Z" fill="#fff"/><path d="M543.3 1012.7L546.2 1004.3L546.9 1008.6L551.2 1008.7Z" fill="#fff"/><path d="M610.1 948L636.4 967.3" stroke="#fff" stroke-width="1.4" fill="none"/><path d="M607.6 946.3L612.3 953.8L612.1 949.5L616.3 948.5Z" fill="#fff"/><path d="M638.8 969.1L630.2 966.9L634.4 965.9L634.1 961.6Z" fill="#fff"/><text transform="translate(550.1 989.9)" font-family="'DejaVu Sans','Liberation Sans',sans-serif" font-size="11" text-anchor="middle" fill="#fff" font-style="italic">L</text><text transform="translate(653.3 981.6)" font-family="'DejaVu Sans','Liberation Sans',sans-serif" font-size="11" text-anchor="middle" fill="#fff" font-style="italic">W</text><text transform="translate(575.9 1097.3)" font-family="'DejaVu Sans','Liberation Sans',sans-serif" font-size="12.5" text-anchor="middle" fill="#fff">500 nm</text><rect x="556.8" y="1101.4" width="37.8" height="3.6" fill="#fff"/><text transform="translate(556.8 958.7)" font-family="'DejaVu Sans','Liberation Sans',sans-serif" font-size="11" text-anchor="middle" fill="#d8452a">c</text><text transform="translate(521.5 1005.5)" font-family="'DejaVu Sans','Liberation Sans',sans-serif" font-size="11" text-anchor="middle" fill="#d8452a">i</text><text transform="translate(657.5 933.8)" font-family="'DejaVu Sans','Liberation Sans',sans-serif" font-size="11" text-anchor="middle" fill="#d8452a">f</text><text transform="translate(497.6 1107.2)" font-family="'DejaVu Sans','Liberation Sans',sans-serif" font-size="11" text-anchor="middle" fill="#d8452a">g</text>
<rect x="169.7" y="604.8" width="540" height="531.4" fill="none" stroke="#232a6a" stroke-width="1.2"/>
<path d="M169.7 604.8V1136.2H709.7" fill="none" stroke="#222" stroke-width="1.4"/>
<path d="M169.7 1078.3h-16M169.7 1009.5h-16M169.7 940.7h-16M169.7 871.9h-16M169.7 803.1h-16M169.7 734.3h-16M169.7 665.5h-16M170 1136.2v16M305 1136.2v16M440 1136.2v16M575 1136.2v16M710 1136.2v16" stroke="#222" stroke-width="1.4" fill="none"/>
<text transform="translate(146.5 1085.6)" font-family="'DejaVu Sans','Liberation Sans',sans-serif" font-size="20" text-anchor="end" fill="#3a3d44">−3</text>
<text transform="translate(146.5 1016.8)" font-family="'DejaVu Sans','Liberation Sans',sans-serif" font-size="20" text-anchor="end" fill="#3a3d44">−2</text>
<text transform="translate(146.5 948)" font-family="'DejaVu Sans','Liberation Sans',sans-serif" font-size="20" text-anchor="end" fill="#3a3d44">−1</text>
<text transform="translate(146.5 879.2)" font-family="'DejaVu Sans','Liberation Sans',sans-serif" font-size="20" text-anchor="end" fill="#3a3d44">0</text>
<text transform="translate(146.5 810.4)" font-family="'DejaVu Sans','Liberation Sans',sans-serif" font-size="20" text-anchor="end" fill="#3a3d44">1</text>
<text transform="translate(146.5 741.6)" font-family="'DejaVu Sans','Liberation Sans',sans-serif" font-size="20" text-anchor="end" fill="#3a3d44">2</text>
<text transform="translate(146.5 672.8)" font-family="'DejaVu Sans','Liberation Sans',sans-serif" font-size="20" text-anchor="end" fill="#3a3d44">3</text>
<text transform="translate(164.5 1177)" font-family="'DejaVu Sans','Liberation Sans',sans-serif" font-size="20" text-anchor="middle" fill="#3a3d44">−5.0</text>
<text transform="translate(299.5 1177)" font-family="'DejaVu Sans','Liberation Sans',sans-serif" font-size="20" text-anchor="middle" fill="#3a3d44">−2.5</text>
<text transform="translate(439.5 1177)" font-family="'DejaVu Sans','Liberation Sans',sans-serif" font-size="20" text-anchor="middle" fill="#3a3d44">0.0</text>
<text transform="translate(574.5 1177)" font-family="'DejaVu Sans','Liberation Sans',sans-serif" font-size="20" text-anchor="middle" fill="#3a3d44">2.5</text>
<text transform="translate(709.5 1177)" font-family="'DejaVu Sans','Liberation Sans',sans-serif" font-size="20" text-anchor="middle" fill="#3a3d44">5.0</text>
<text transform="translate(439 1206.5) scale(0.97 1)" font-family="'DejaVu Sans','Liberation Sans',sans-serif" font-size="20" text-anchor="middle" fill="#3a3d44">Magnetic field (T)</text>
<text transform="translate(110 871) rotate(-90)" font-family="'DejaVu Sans','Liberation Sans',sans-serif" font-size="20" text-anchor="middle" fill="#3a3d44">Density (10<tspan font-size="12.5" dy="-7">12</tspan><tspan dy="7"> cm</tspan><tspan font-size="12.5" dy="-7">−2</tspan><tspan dy="7">)</tspan></text>
<text transform="translate(16.5 513)" font-family="'Liberation Sans',Arial,sans-serif" font-size="35.5" text-anchor="start" fill="#111">(b)</text>
</g>
<g id="pc">
<g filter="url(#cM)">
<rect x="1084" y="11" width="734" height="527" fill="#808080"/>
<g clip-path="url(#ct1_1)"><rect x="1084.8" y="11.5" width="74" height="87.5" fill="#878787"/><g filter="url(#cB)"><ellipse cx="1092.3" cy="59.4" rx="10.3" ry="12.3" fill="#000" opacity="0.24"/><ellipse cx="1121.1" cy="84" rx="30.8" ry="8.2" fill="#fff" opacity="0.2"/><ellipse cx="1121.1" cy="20.3" rx="30.8" ry="8.2" fill="#000" opacity="0.07"/></g></g>
<g clip-path="url(#ct1_2)"><rect x="1158.8" y="11.5" width="73" height="87.5" fill="#878787"/><g filter="url(#cB)"><ellipse cx="1197.1" cy="60.4" rx="20.5" ry="13.4" fill="#000" opacity="0.57" transform="rotate(-25 1197.1 60.4)"/><ellipse cx="1176.5" cy="49.1" rx="8.2" ry="8.2" fill="#fff" opacity="0.17"/><ellipse cx="1195" cy="90.2" rx="24.7" ry="8.2" fill="#fff" opacity="0.17"/><ellipse cx="1172.4" cy="26.5" rx="12.3" ry="16.4" fill="#000" opacity="0.12"/></g></g>
<g clip-path="url(#ct1_3)"><rect x="1231.8" y="11.5" width="73.5" height="87.5" fill="#787878"/><g filter="url(#cB)"><ellipse cx="1250.5" cy="51.1" rx="10.3" ry="8.2" fill="#fff" opacity="0.29"/><ellipse cx="1281.3" cy="63.5" rx="12.3" ry="12.3" fill="#000" opacity="0.27"/><ellipse cx="1254.6" cy="69.6" rx="12.3" ry="8.2" fill="#000" opacity="0.18"/><ellipse cx="1264.9" cy="90.2" rx="24.7" ry="8.2" fill="#fff" opacity="0.23"/></g></g>
<g clip-path="url(#ct1_4)"><rect x="1305.3" y="11.5" width="73" height="87.5" fill="#7d7d7d"/><g filter="url(#cB)"><ellipse cx="1328.6" cy="72.7" rx="10.3" ry="7.2" fill="#000" opacity="0.3"/><ellipse cx="1326.5" cy="53.2" rx="10.3" ry="8.2" fill="#fff" opacity="0.2"/><ellipse cx="1349.1" cy="61.4" rx="8.2" ry="10.3" fill="#fff" opacity="0.17"/><ellipse cx="1367.6" cy="55.2" rx="8.2" ry="10.3" fill="#000" opacity="0.18"/><ellipse cx="1336.8" cy="90.2" rx="20.5" ry="8.2" fill="#fff" opacity="0.14"/></g></g>
<g clip-path="url(#ct1_5)"><rect x="1378.3" y="11.5" width="73.5" height="87.5" fill="#878787"/><g filter="url(#cB)"><ellipse cx="1406.6" cy="67.6" rx="11.3" ry="19.5" fill="#000" opacity="0.51" transform="rotate(15 1406.6 67.6)"/><ellipse cx="1408.7" cy="38.8" rx="8.2" ry="12.3" fill="#000" opacity="0.24"/><ellipse cx="1388.1" cy="59.4" rx="8.2" ry="16.4" fill="#fff" opacity="0.17"/><ellipse cx="1435.4" cy="59.4" rx="10.3" ry="24.7" fill="#fff" opacity="0.12"/></g></g>
<g clip-path="url(#ct1_6)"><rect x="1451.8" y="11.5" width="73.5" height="87.5" fill="#8a8a8a"/><g filter="url(#cB)"><path d="M1459.1 19.8A33.9 33.9 0 0 1 1459.1 86.6" fill="none" stroke="#000" stroke-width="19.5" stroke-linecap="round" opacity="0.45"/><ellipse cx="1463.5" cy="49.1" rx="12.7" ry="22.6" fill="#fff" opacity="0.61"/><ellipse cx="1510.7" cy="59.4" rx="10.3" ry="41.1" fill="#fff" opacity="0.07"/></g></g>
<g clip-path="url(#ct1_7)"><rect x="1525.3" y="11.5" width="72.5" height="87.5" fill="#8c8c8c"/><g filter="url(#cB)"><path d="M1532.1 11.7A40.1 40.1 0 0 1 1532.1 90.6" fill="none" stroke="#000" stroke-width="21.6" stroke-linecap="round" opacity="0.51"/><ellipse cx="1537.4" cy="47" rx="14.4" ry="23.6" fill="#fff" opacity="0.61"/><ellipse cx="1584.7" cy="59.4" rx="8.2" ry="41.1" fill="#fff" opacity="0.06"/></g></g>
<g clip-path="url(#ct1_8)"><rect x="1597.8" y="11.5" width="73" height="87.5" fill="#808080"/><g filter="url(#cB)"><path d="M1611.5 21.9A35.9 35.9 0 0 1 1611.5 92.7" fill="none" stroke="#000" stroke-width="17.5" stroke-linecap="round" opacity="0.36"/><ellipse cx="1617.6" cy="53.2" rx="12.3" ry="24.7" fill="#fff" opacity="0.61" transform="rotate(5 1617.6 53.2)"/><ellipse cx="1658.6" cy="59.4" rx="10.3" ry="41.1" fill="#fff" opacity="0.14"/></g></g>
<g clip-path="url(#ct1_9)"><rect x="1670.8" y="11.5" width="73" height="87.5" fill="#6b6b6b"/><g filter="url(#cB)"><path d="M1685 26A30.8 30.8 0 0 1 1685 80.4" fill="none" stroke="#fff" stroke-width="26.5" stroke-linecap="round" opacity="0.61"/><ellipse cx="1677.1" cy="53.2" rx="9.2" ry="20.5" fill="#000" opacity="0.36"/></g></g>
<g clip-path="url(#ct1_10)"><rect x="1743.8" y="11.5" width="73" height="87.5" fill="#636363"/><g filter="url(#cB)"><path d="M1763.1 21.9A30.8 30.8 0 0 1 1763.1 76.3" fill="none" stroke="#fff" stroke-width="26.5" stroke-linecap="round" opacity="0.61"/><ellipse cx="1751.1" cy="49.1" rx="10.3" ry="18.5" fill="#000" opacity="0.45"/><ellipse cx="1808.6" cy="49.1" rx="8.2" ry="41.1" fill="#000" opacity="0.12"/></g></g>
<g clip-path="url(#ct2_1)"><rect x="1084.8" y="99" width="74" height="87" fill="#8c8c8c"/><g filter="url(#cB)"><ellipse cx="1125.2" cy="141.5" rx="19.5" ry="16.4" fill="#000" opacity="0.57" transform="rotate(-15 1125.2 141.5)"/><ellipse cx="1102.6" cy="151.8" rx="12.3" ry="9.2" fill="#000" opacity="0.36"/><ellipse cx="1121.1" cy="177.5" rx="32.9" ry="7.2" fill="#fff" opacity="0.2"/><ellipse cx="1110.8" cy="105.6" rx="24.7" ry="6.2" fill="#fff" opacity="0.12"/></g></g>
<g clip-path="url(#ct2_2)"><rect x="1158.8" y="99" width="73" height="87" fill="#8a8a8a"/><g filter="url(#cB)"><ellipse cx="1199.1" cy="149.7" rx="23.6" ry="11.3" fill="#000" opacity="0.54" transform="rotate(-5 1199.1 149.7)"/><ellipse cx="1176.5" cy="139.5" rx="10.3" ry="7.2" fill="#fff" opacity="0.17"/><ellipse cx="1201.2" cy="114.8" rx="12.3" ry="14.4" fill="#fff" opacity="0.14"/><ellipse cx="1203.3" cy="179.5" rx="26.7" ry="6.2" fill="#fff" opacity="0.17"/></g></g>
<g clip-path="url(#ct2_3)"><rect x="1231.8" y="99" width="73.5" height="87" fill="#828282"/><g filter="url(#cB)"><ellipse cx="1275.2" cy="110.7" rx="10.3" ry="12.3" fill="#fff" opacity="0.23"/><ellipse cx="1252.6" cy="135.4" rx="10.3" ry="8.2" fill="#fff" opacity="0.2"/><ellipse cx="1258.7" cy="160" rx="10.3" ry="8.2" fill="#000" opacity="0.33"/><ellipse cx="1289.5" cy="151.8" rx="8.2" ry="12.3" fill="#000" opacity="0.3"/><ellipse cx="1264.9" cy="181.6" rx="24.7" ry="6.2" fill="#fff" opacity="0.12"/></g></g>
<g clip-path="url(#ct2_4)"><rect x="1305.3" y="99" width="73" height="87" fill="#858585"/><g filter="url(#cB)"><ellipse cx="1332.7" cy="160" rx="9.2" ry="17.5" fill="#000" opacity="0.48" transform="rotate(20 1332.7 160)"/><ellipse cx="1347.1" cy="131.3" rx="16.4" ry="10.3" fill="#fff" opacity="0.17"/><ellipse cx="1318.3" cy="135.4" rx="8.2" ry="12.3" fill="#fff" opacity="0.14"/><ellipse cx="1363.5" cy="162.1" rx="10.3" ry="16.4" fill="#000" opacity="0.15"/></g></g>
<g clip-path="url(#ct2_5)"><rect x="1378.3" y="99" width="73.5" height="87" fill="#8c8c8c"/><g filter="url(#cB)"><path d="M1393.5 106.7A41.1 41.1 0 0 1 1393.5 176.4" fill="none" stroke="#000" stroke-width="18.5" stroke-linecap="round" opacity="0.54"/><ellipse cx="1389.2" cy="135.4" rx="11.3" ry="18.5" fill="#fff" opacity="0.35"/><ellipse cx="1439.5" cy="141.5" rx="8.2" ry="30.8" fill="#fff" opacity="0.14"/></g></g>
<g clip-path="url(#ct2_6)"><rect x="1451.8" y="99" width="73.5" height="87" fill="#8a8a8a"/><g filter="url(#cB)"><path d="M1456.3 104.7A34.9 34.9 0 0 1 1456.3 174.3" fill="none" stroke="#000" stroke-width="21.6" stroke-linecap="round" opacity="0.48"/><ellipse cx="1464.5" cy="135.4" rx="13.6" ry="23.6" fill="#fff" opacity="0.61"/><ellipse cx="1512.8" cy="141.5" rx="8.2" ry="41.1" fill="#fff" opacity="0.07"/></g></g>
<g clip-path="url(#ct2_7)"><rect x="1525.3" y="99" width="72.5" height="87" fill="#8f8f8f"/><g filter="url(#cB)"><path d="M1534.1 102.1A40.1 40.1 0 0 1 1534.1 181" fill="none" stroke="#000" stroke-width="21.6" stroke-linecap="round" opacity="0.51"/><ellipse cx="1540.5" cy="139.5" rx="14.4" ry="24.7" fill="#fff" opacity="0.61"/><ellipse cx="1541.5" cy="139.5" rx="5.4" ry="10.6" fill="#fff" opacity="0.5"/></g></g>
<g clip-path="url(#ct2_8)"><rect x="1597.8" y="99" width="73" height="87" fill="#6e6e6e"/><g filter="url(#cB)"><path d="M1614.3 114.2A30.8 30.8 0 0 1 1612.9 165.6" fill="none" stroke="#fff" stroke-width="22.8" stroke-linecap="round" opacity="0.58"/><ellipse cx="1621.7" cy="141.5" rx="8.2" ry="18.5" fill="#fff" opacity="0.17" transform="rotate(10 1621.7 141.5)"/><ellipse cx="1603.2" cy="141.5" rx="7.2" ry="18.5" fill="#000" opacity="0.27"/></g></g>
<g clip-path="url(#ct2_9)"><rect x="1670.8" y="99" width="73" height="87" fill="#696969"/><g filter="url(#cB)"><path d="M1687.1 114.3A30.8 30.8 0 0 1 1687.1 168.7" fill="none" stroke="#fff" stroke-width="26.5" stroke-linecap="round" opacity="0.61"/><ellipse cx="1677.1" cy="139.5" rx="10.3" ry="20.5" fill="#000" opacity="0.42"/></g></g>
<g clip-path="url(#ct2_10)"><rect x="1743.8" y="99" width="73" height="87" fill="#696969"/><g filter="url(#cB)"><path d="M1765.1 114.3A30.8 30.8 0 0 1 1765.1 168.7" fill="none" stroke="#fff" stroke-width="25.3" stroke-linecap="round" opacity="0.61"/><ellipse cx="1751.1" cy="135.4" rx="10.3" ry="16.4" fill="#000" opacity="0.45"/></g></g>
<g clip-path="url(#ct3_1)"><rect x="1084.8" y="186" width="74" height="87.7" fill="#8c8c8c"/><g filter="url(#cB)"><ellipse cx="1123.1" cy="234.4" rx="22.6" ry="14" fill="#000" opacity="0.54" transform="rotate(-10 1123.1 234.4)"/><ellipse cx="1121.1" cy="262.1" rx="26.7" ry="9.2" fill="#fff" opacity="0.29" transform="rotate(-10 1121.1 262.1)"/><ellipse cx="1104.7" cy="195.3" rx="20.5" ry="8.2" fill="#fff" opacity="0.17"/></g></g>
<g clip-path="url(#ct3_2)"><rect x="1158.8" y="186" width="73" height="87.7" fill="#858585"/><g filter="url(#cB)"><ellipse cx="1199.1" cy="236.4" rx="25.7" ry="12.3" fill="#000" opacity="0.48"/><ellipse cx="1205.3" cy="207.7" rx="6.2" ry="10.3" fill="#fff" opacity="0.26"/><ellipse cx="1197.1" cy="265.2" rx="24.7" ry="8.2" fill="#fff" opacity="0.2"/></g></g>
<g clip-path="url(#ct3_3)"><rect x="1231.8" y="186" width="73.5" height="87.7" fill="#858585"/><g filter="url(#cB)"><ellipse cx="1260.8" cy="244.6" rx="12.3" ry="10.3" fill="#000" opacity="0.48"/><ellipse cx="1250.5" cy="224.1" rx="12.3" ry="6.2" fill="#fff" opacity="0.17"/><ellipse cx="1275.2" cy="265.2" rx="12.3" ry="6.2" fill="#fff" opacity="0.17"/><ellipse cx="1285.4" cy="213.8" rx="14.4" ry="20.5" fill="#000" opacity="0.18"/></g></g>
<g clip-path="url(#ct3_4)"><rect x="1305.3" y="186" width="73" height="87.7" fill="#8a8a8a"/><g filter="url(#cB)"><ellipse cx="1336.8" cy="242.6" rx="13.4" ry="19.5" fill="#000" opacity="0.54" transform="rotate(10 1336.8 242.6)"/><ellipse cx="1330.6" cy="203.5" rx="8.2" ry="16.4" fill="#000" opacity="0.36" transform="rotate(-10 1330.6 203.5)"/><ellipse cx="1316.2" cy="224.1" rx="8.2" ry="14.4" fill="#fff" opacity="0.26"/><ellipse cx="1363.5" cy="224.1" rx="8.2" ry="24.7" fill="#000" opacity="0.21"/></g></g>
<g clip-path="url(#ct3_5)"><rect x="1378.3" y="186" width="73.5" height="87.7" fill="#919191"/><g filter="url(#cB)"><path d="M1380.7 188.7A40.1 40.1 0 0 1 1380.7 267.6" fill="none" stroke="#000" stroke-width="23.6" stroke-linecap="round" opacity="0.57"/><ellipse cx="1389.2" cy="226.1" rx="11.7" ry="22.6" fill="#fff" opacity="0.61"/><ellipse cx="1391.2" cy="224.1" rx="5.4" ry="11.8" fill="#fff" opacity="0.45"/></g></g>
<g clip-path="url(#ct3_6)"><rect x="1451.8" y="186" width="73.5" height="87.7" fill="#8a8a8a"/><g filter="url(#cB)"><path d="M1458.4 196.5A35.9 35.9 0 0 1 1458.4 268.1" fill="none" stroke="#000" stroke-width="22.6" stroke-linecap="round" opacity="0.51"/><ellipse cx="1466.6" cy="228.2" rx="14.8" ry="24.7" fill="#fff" opacity="0.61"/><ellipse cx="1467.6" cy="226.1" rx="7.4" ry="14.2" fill="#fff" opacity="0.8"/><ellipse cx="1514.8" cy="234.4" rx="8.2" ry="41.1" fill="#fff" opacity="0.09"/></g></g>
<g clip-path="url(#ct3_7)"><rect x="1525.3" y="186" width="72.5" height="87.7" fill="#757575"/><g filter="url(#cB)"><path d="M1537.5 196.9A35.9 35.9 0 0 1 1537.5 267.7" fill="none" stroke="#000" stroke-width="18.5" stroke-linecap="round" opacity="0.33"/><ellipse cx="1543.6" cy="228.2" rx="12.3" ry="24.7" fill="#fff" opacity="0.61" transform="rotate(-5 1543.6 228.2)"/><ellipse cx="1543.6" cy="228.2" rx="5.4" ry="14.2" fill="#fff" opacity="0.7" transform="rotate(-5 1543.6 228.2)"/><ellipse cx="1588.8" cy="234.4" rx="7.2" ry="41.1" fill="#fff" opacity="0.14"/></g></g>
<g clip-path="url(#ct3_8)"><rect x="1597.8" y="186" width="73" height="87.7" fill="#616161"/><g filter="url(#cB)"><path d="M1614.1 195.1A32.9 32.9 0 0 1 1614.1 253.1" fill="none" stroke="#fff" stroke-width="27.7" stroke-linecap="round" opacity="0.61"/><path d="M1623 202.3A33.9 33.9 0 0 1 1618.8 250" fill="none" stroke="#fff" stroke-width="10.1" stroke-linecap="round" opacity="0.4"/><ellipse cx="1605.2" cy="224.1" rx="9.2" ry="18.5" fill="#000" opacity="0.36"/></g></g>
<g clip-path="url(#ct3_9)"><rect x="1670.8" y="186" width="73" height="87.7" fill="#616161"/><g filter="url(#cB)"><path d="M1688 197.1A32.9 32.9 0 0 1 1688 255.2" fill="none" stroke="#fff" stroke-width="27.7" stroke-linecap="round" opacity="0.61"/><path d="M1696.9 204.4A33.9 33.9 0 0 1 1692.8 252.1" fill="none" stroke="#fff" stroke-width="10.1" stroke-linecap="round" opacity="0.4"/><ellipse cx="1679.2" cy="224.1" rx="10.3" ry="18.5" fill="#000" opacity="0.39"/></g></g>
<g clip-path="url(#ct3_10)"><rect x="1743.8" y="186" width="73" height="87.7" fill="#6e6e6e"/><g filter="url(#cB)"><path d="M1764.1 195.2A31.8 31.8 0 0 1 1764.1 252.9" fill="none" stroke="#fff" stroke-width="21.6" stroke-linecap="round" opacity="0.52"/><ellipse cx="1755.2" cy="222" rx="10.3" ry="16.4" fill="#000" opacity="0.51"/></g></g>
<g clip-path="url(#ct4_1)"><rect x="1084.8" y="273.7" width="74" height="87.6" fill="#8c8c8c"/><g filter="url(#cB)"><ellipse cx="1121.1" cy="324.7" rx="26.7" ry="12.7" fill="#000" opacity="0.51" transform="rotate(-30 1121.1 324.7)"/><ellipse cx="1127.2" cy="306.3" rx="10.3" ry="12.3" fill="#000" opacity="0.36"/><ellipse cx="1121.1" cy="350.4" rx="24.7" ry="8.2" fill="#fff" opacity="0.32"/><ellipse cx="1110.8" cy="281.6" rx="24.7" ry="6.2" fill="#fff" opacity="0.17"/></g></g>
<g clip-path="url(#ct4_2)"><rect x="1158.8" y="273.7" width="73" height="87.6" fill="#858585"/><g filter="url(#cB)"><ellipse cx="1197.1" cy="322.7" rx="30.8" ry="18.5" fill="#000" opacity="0.45"/><ellipse cx="1176.5" cy="314.5" rx="7.2" ry="8.2" fill="#fff" opacity="0.26"/><ellipse cx="1203.3" cy="283.7" rx="16.4" ry="10.3" fill="#fff" opacity="0.35"/><ellipse cx="1186.8" cy="354.5" rx="20.5" ry="6.2" fill="#fff" opacity="0.29"/></g></g>
<g clip-path="url(#ct4_3)"><rect x="1231.8" y="273.7" width="73.5" height="87.6" fill="#878787"/><g filter="url(#cB)"><ellipse cx="1260.8" cy="337.1" rx="14.4" ry="13.4" fill="#000" opacity="0.54"/><ellipse cx="1271" cy="298" rx="10.3" ry="14.4" fill="#000" opacity="0.3"/><ellipse cx="1250.5" cy="310.4" rx="9.2" ry="10.3" fill="#fff" opacity="0.43"/></g></g>
<g clip-path="url(#ct4_4)"><rect x="1305.3" y="273.7" width="73" height="87.6" fill="#8f8f8f"/><g filter="url(#cB)"><path d="M1316.6 283.8A37 37 0 0 1 1310.3 355" fill="none" stroke="#000" stroke-width="19.5" stroke-linecap="round" opacity="0.57"/><ellipse cx="1317.3" cy="314.5" rx="12.3" ry="20.5" fill="#fff" opacity="0.61"/></g></g>
<g clip-path="url(#ct4_5)"><rect x="1378.3" y="273.7" width="73.5" height="87.6" fill="#919191"/><g filter="url(#cB)"><path d="M1383.1 277.1A42.1 42.1 0 0 1 1383.1 360.1" fill="none" stroke="#000" stroke-width="23.6" stroke-linecap="round" opacity="0.57"/><ellipse cx="1392.2" cy="314.5" rx="14.4" ry="26.7" fill="#fff" opacity="0.61"/><ellipse cx="1394.3" cy="312.4" rx="6.9" ry="13" fill="#fff" opacity="0.95"/></g></g>
<g clip-path="url(#ct4_6)"><rect x="1451.8" y="273.7" width="73.5" height="87.6" fill="#808080"/><g filter="url(#cB)"><path d="M1462.5 282.8A35.9 35.9 0 0 1 1462.5 354.4" fill="none" stroke="#000" stroke-width="20.5" stroke-linecap="round" opacity="0.36"/><ellipse cx="1469.7" cy="316.5" rx="12.7" ry="25.7" fill="#fff" opacity="0.61" transform="rotate(-10 1469.7 316.5)"/><ellipse cx="1468.6" cy="316.5" rx="6.9" ry="18.9" fill="#fff" opacity="0.95" transform="rotate(-15 1468.6 316.5)"/><ellipse cx="1512.8" cy="316.5" rx="8.2" ry="41.1" fill="#fff" opacity="0.09"/></g></g>
<g clip-path="url(#ct4_7)"><rect x="1525.3" y="273.7" width="72.5" height="87.6" fill="#6b6b6b"/><g filter="url(#cB)"><ellipse cx="1549.8" cy="316.5" rx="16.4" ry="28.8" fill="#fff" opacity="0.61"/><ellipse cx="1549.8" cy="324.7" rx="7.4" ry="14.2" fill="#fff" opacity="0.6"/><ellipse cx="1529.2" cy="318.6" rx="7.2" ry="14.4" fill="#000" opacity="0.3"/></g></g>
<g clip-path="url(#ct4_8)"><rect x="1597.8" y="273.7" width="73" height="87.6" fill="#5e5e5e"/><g filter="url(#cB)"><path d="M1614.6 284.5A33.9 33.9 0 0 1 1614.6 344.4" fill="none" stroke="#fff" stroke-width="27.7" stroke-linecap="round" opacity="0.61"/><path d="M1630.9 316.5A33.9 33.9 0 0 1 1618.8 342.5" fill="none" stroke="#fff" stroke-width="12.9" stroke-linecap="round" opacity="1"/><ellipse cx="1607.3" cy="310.4" rx="9.2" ry="20.5" fill="#000" opacity="0.36"/></g></g>
<g clip-path="url(#ct4_9)"><rect x="1670.8" y="273.7" width="73" height="87.6" fill="#616161"/><g filter="url(#cB)"><path d="M1689 283.8A33.9 33.9 0 0 1 1689 345.2" fill="none" stroke="#fff" stroke-width="26.5" stroke-linecap="round" opacity="0.61"/><path d="M1702.9 297.2A34.5 34.5 0 0 1 1699.5 336.7" fill="none" stroke="#fff" stroke-width="10.1" stroke-linecap="round" opacity="0.6"/><ellipse cx="1681.2" cy="312.4" rx="10.3" ry="20.5" fill="#000" opacity="0.51"/><ellipse cx="1681.2" cy="310.4" rx="2.5" ry="5.9" fill="#000" opacity="0.6"/></g></g>
<g clip-path="url(#ct4_10)"><rect x="1743.8" y="273.7" width="73" height="87.6" fill="#737373"/><g filter="url(#cB)"><path d="M1764.9 289A31.8 31.8 0 0 1 1764.9 344.1" fill="none" stroke="#fff" stroke-width="18.5" stroke-linecap="round" opacity="0.36"/><ellipse cx="1755.2" cy="310.4" rx="10.3" ry="20.5" fill="#000" opacity="0.48"/><ellipse cx="1749" cy="341.2" rx="8.2" ry="10.3" fill="#fff" opacity="0.29"/></g></g>
<g clip-path="url(#ct5_1)"><rect x="1084.8" y="361.3" width="74" height="88.1" fill="#919191"/><g filter="url(#cB)"><ellipse cx="1121.1" cy="413.5" rx="21.6" ry="15.4" fill="#000" opacity="0.54"/><ellipse cx="1131.4" cy="374.4" rx="12.3" ry="10.3" fill="#fff" opacity="0.32"/><ellipse cx="1100.5" cy="399.1" rx="10.3" ry="8.2" fill="#fff" opacity="0.26"/><ellipse cx="1110.8" cy="437.1" rx="24.7" ry="7.2" fill="#fff" opacity="0.32"/></g></g>
<g clip-path="url(#ct5_2)"><rect x="1158.8" y="361.3" width="73" height="88.1" fill="#8f8f8f"/><g filter="url(#cB)"><ellipse cx="1195" cy="417.6" rx="23.6" ry="11.3" fill="#000" opacity="0.51" transform="rotate(-15 1195 417.6)"/><ellipse cx="1207.4" cy="372.4" rx="8.2" ry="12.3" fill="#fff" opacity="0.32"/><ellipse cx="1174.5" cy="399.1" rx="8.2" ry="8.2" fill="#fff" opacity="0.29"/><ellipse cx="1195" cy="442.6" rx="30.8" ry="6.2" fill="#fff" opacity="0.26"/></g></g>
<g clip-path="url(#ct5_3)"><rect x="1231.8" y="361.3" width="73.5" height="88.1" fill="#949494"/><g filter="url(#cB)"><path d="M1246.2 379.6A30.8 30.8 0 0 1 1246.2 439.1" fill="none" stroke="#000" stroke-width="20.5" stroke-linecap="round" opacity="0.54"/><ellipse cx="1244.3" cy="403.2" rx="12.7" ry="19.5" fill="#fff" opacity="0.55"/></g></g>
<g clip-path="url(#ct5_4)"><rect x="1305.3" y="361.3" width="73" height="88.1" fill="#999999"/><g filter="url(#cB)"><path d="M1309.3 369.4A38 38 0 0 1 1309.3 445.2" fill="none" stroke="#000" stroke-width="23.6" stroke-linecap="round" opacity="0.57"/><ellipse cx="1319.3" cy="403.2" rx="13.8" ry="22.6" fill="#fff" opacity="0.61"/><ellipse cx="1321.4" cy="402.2" rx="9.9" ry="16.5" fill="#fff" opacity="1"/></g></g>
<g clip-path="url(#ct5_5)"><rect x="1378.3" y="361.3" width="73.5" height="88.1" fill="#949494"/><g filter="url(#cB)"><path d="M1385.4 368.4A39 39 0 0 1 1385.4 446.2" fill="none" stroke="#000" stroke-width="25.7" stroke-linecap="round" opacity="0.57"/><ellipse cx="1396.4" cy="403.2" rx="14.4" ry="26.7" fill="#fff" opacity="0.61" transform="rotate(5 1396.4 403.2)"/><ellipse cx="1397.4" cy="403.2" rx="10.4" ry="22.4" fill="#fff" opacity="1" transform="rotate(5 1397.4 403.2)"/></g></g>
<g clip-path="url(#ct5_6)"><rect x="1451.8" y="361.3" width="73.5" height="88.1" fill="#666666"/><g filter="url(#cB)"><ellipse cx="1479.9" cy="403.2" rx="18.5" ry="28.8" fill="#fff" opacity="0.61" transform="rotate(-10 1479.9 403.2)"/><ellipse cx="1475.8" cy="415.5" rx="11.1" ry="11.8" fill="#fff" opacity="1"/><ellipse cx="1510.7" cy="409.4" rx="7.2" ry="24.7" fill="#fff" opacity="0.2"/></g></g>
<g clip-path="url(#ct5_7)"><rect x="1525.3" y="361.3" width="72.5" height="88.1" fill="#595959"/><g filter="url(#cB)"><path d="M1543.9 375.3A30.8 30.8 0 0 1 1543.9 431.1" fill="none" stroke="#fff" stroke-width="28.8" stroke-linecap="round" opacity="0.61"/><path d="M1552.8 385.4A30.8 30.8 0 0 1 1546.9 430.5" fill="none" stroke="#fff" stroke-width="14.4" stroke-linecap="round" opacity="1"/><ellipse cx="1531.3" cy="395" rx="8.2" ry="16.4" fill="#000" opacity="0.24"/></g></g>
<g clip-path="url(#ct5_8)"><rect x="1597.8" y="361.3" width="73" height="88.1" fill="#636363"/><g filter="url(#cB)"><path d="M1616.7 375.5A32.9 32.9 0 0 1 1616.7 435" fill="none" stroke="#fff" stroke-width="26.5" stroke-linecap="round" opacity="0.61"/><path d="M1630.5 388.3A33.9 33.9 0 0 1 1630.5 422.2" fill="none" stroke="#fff" stroke-width="10.1" stroke-linecap="round" opacity="0.7"/><ellipse cx="1609.3" cy="399.1" rx="10.3" ry="18.5" fill="#000" opacity="0.51"/><ellipse cx="1610.4" cy="398.1" rx="4.4" ry="5.2" fill="#000" opacity="0.7"/></g></g>
<g clip-path="url(#ct5_9)"><rect x="1670.8" y="361.3" width="73" height="88.1" fill="#949494"/><g filter="url(#cB)"><ellipse cx="1683.3" cy="399.1" rx="11.3" ry="18.5" fill="#000" opacity="0.6"/><ellipse cx="1683.3" cy="399.1" rx="4.9" ry="6.6" fill="#000" opacity="0.8"/><ellipse cx="1699.7" cy="417.6" rx="14.4" ry="10.3" fill="#fff" opacity="0.26"/><ellipse cx="1677.1" cy="425.8" rx="6.2" ry="8.2" fill="#fff" opacity="0.35"/><ellipse cx="1722.3" cy="423.7" rx="16.4" ry="18.5" fill="#000" opacity="0.27"/></g></g>
<g clip-path="url(#ct5_10)"><rect x="1743.8" y="361.3" width="73" height="88.1" fill="#919191"/><g filter="url(#cB)"><ellipse cx="1767.5" cy="403.2" rx="16.4" ry="30.8" fill="#000" opacity="0.48" transform="rotate(15 1767.5 403.2)"/><ellipse cx="1749" cy="411.4" rx="6.2" ry="12.3" fill="#fff" opacity="0.38"/></g></g>
<g clip-path="url(#ct6_1)"><rect x="1084.8" y="449.4" width="74" height="87.9" fill="#949494"/><g filter="url(#cB)"><ellipse cx="1123.1" cy="497.7" rx="19.5" ry="21.6" fill="#000" opacity="0.54"/><ellipse cx="1135.5" cy="462.8" rx="8.2" ry="12.3" fill="#fff" opacity="0.41"/><ellipse cx="1100.5" cy="487.4" rx="8.2" ry="8.2" fill="#fff" opacity="0.32"/><ellipse cx="1110.8" cy="529.5" rx="24.7" ry="6.2" fill="#fff" opacity="0.32"/></g></g>
<g clip-path="url(#ct6_2)"><rect x="1158.8" y="449.4" width="73" height="87.9" fill="#999999"/><g filter="url(#cB)"><ellipse cx="1195" cy="495.6" rx="17.5" ry="27.7" fill="#000" opacity="0.57" transform="rotate(-10 1195 495.6)"/><ellipse cx="1186.8" cy="509" rx="3.5" ry="3.3" fill="#000" opacity="0.8"/><ellipse cx="1174.5" cy="483.3" rx="10.7" ry="14.8" fill="#fff" opacity="0.67"/></g></g>
<g clip-path="url(#ct6_3)"><rect x="1231.8" y="449.4" width="73.5" height="87.9" fill="#999999"/><g filter="url(#cB)"><path d="M1245.9 461.2A32.9 32.9 0 0 1 1245.9 525.9" fill="none" stroke="#000" stroke-width="22.6" stroke-linecap="round" opacity="0.57"/><ellipse cx="1271" cy="512.1" rx="3.9" ry="3.3" fill="#000" opacity="0.8"/><ellipse cx="1246.4" cy="485.4" rx="13.4" ry="19.5" fill="#fff" opacity="0.61"/><ellipse cx="1249.5" cy="485.4" rx="7.4" ry="13" fill="#fff" opacity="1"/></g></g>
<g clip-path="url(#ct6_4)"><rect x="1305.3" y="449.4" width="73" height="87.9" fill="#6e6e6e"/><g filter="url(#cB)"><path d="M1310.1 454.5A39 39 0 0 1 1310.1 532.6" fill="none" stroke="#000" stroke-width="25.7" stroke-linecap="round" opacity="0.48"/><ellipse cx="1369.6" cy="491.5" rx="8.2" ry="41.1" fill="#fff" opacity="0.29"/><ellipse cx="1324.5" cy="491.5" rx="15.4" ry="25.7" fill="#fff" opacity="0.61"/><ellipse cx="1326.5" cy="491.5" rx="12.3" ry="22.4" fill="#fff" opacity="1"/><ellipse cx="1336.8" cy="522.3" rx="6.2" ry="2.4" fill="#000" opacity="0.6" transform="rotate(-20 1336.8 522.3)"/></g></g>
<g clip-path="url(#ct6_5)"><rect x="1378.3" y="449.4" width="73.5" height="87.9" fill="#575757"/><g filter="url(#cB)"><ellipse cx="1404.6" cy="489.5" rx="18.1" ry="31.8" fill="#fff" opacity="0.61" transform="rotate(5 1404.6 489.5)"/><ellipse cx="1405.6" cy="491.5" rx="13.6" ry="27.2" fill="#fff" opacity="1" transform="rotate(5 1405.6 491.5)"/></g></g>
<g clip-path="url(#ct6_6)"><rect x="1451.8" y="449.4" width="73.5" height="87.9" fill="#545454"/><g filter="url(#cB)"><path d="M1470.5 460.9A30.8 30.8 0 0 1 1470.5 518" fill="none" stroke="#fff" stroke-width="30" stroke-linecap="round" opacity="0.61"/><path d="M1479.1 471.8A30.8 30.8 0 0 1 1472.7 520.3" fill="none" stroke="#fff" stroke-width="18.7" stroke-linecap="round" opacity="1"/><ellipse cx="1459.4" cy="485.4" rx="9.2" ry="20.5" fill="#000" opacity="0.3"/></g></g>
<g clip-path="url(#ct6_7)"><rect x="1525.3" y="449.4" width="72.5" height="87.9" fill="#575757"/><g filter="url(#cB)"><path d="M1546.8 459.7A32.9 32.9 0 0 1 1546.8 519.3" fill="none" stroke="#fff" stroke-width="27.7" stroke-linecap="round" opacity="0.61"/><path d="M1556.5 468.3A32.9 32.9 0 0 1 1556.5 510.6" fill="none" stroke="#fff" stroke-width="14.4" stroke-linecap="round" opacity="1"/><ellipse cx="1535.4" cy="487.4" rx="9.2" ry="16.4" fill="#000" opacity="0.42"/><ellipse cx="1535.4" cy="487.4" rx="3.5" ry="5.9" fill="#000" opacity="0.7" transform="rotate(20 1535.4 487.4)"/></g></g>
<g clip-path="url(#ct6_8)"><rect x="1597.8" y="449.4" width="73" height="87.9" fill="#8f8f8f"/><g filter="url(#cB)"><ellipse cx="1615.5" cy="489.5" rx="16.4" ry="26.7" fill="#000" opacity="0.54" transform="rotate(-20 1615.5 489.5)"/><ellipse cx="1609.3" cy="483.3" rx="4.9" ry="5.9" fill="#000" opacity="0.7"/><ellipse cx="1629.9" cy="514.1" rx="12.3" ry="16.4" fill="#000" opacity="0.3"/><ellipse cx="1603.2" cy="516.2" rx="5.1" ry="12.3" fill="#fff" opacity="0.29"/></g></g>
<g clip-path="url(#ct6_9)"><rect x="1670.8" y="449.4" width="73" height="87.9" fill="#919191"/><g filter="url(#cB)"><path d="M1679.9 465.7A30.8 30.8 0 0 1 1679.9 521.5" fill="none" stroke="#000" stroke-width="19.5" stroke-linecap="round" opacity="0.51"/><ellipse cx="1675.1" cy="505.9" rx="4.1" ry="14.4" fill="#fff" opacity="0.43"/><ellipse cx="1716.2" cy="485.4" rx="6.2" ry="10.3" fill="#fff" opacity="0.23"/></g></g>
<g clip-path="url(#ct6_10)"><rect x="1743.8" y="449.4" width="73" height="87.9" fill="#999999"/><g filter="url(#cB)"><path d="M1754.8 464.5A28.8 28.8 0 0 1 1754.8 518.5" fill="none" stroke="#000" stroke-width="20.5" stroke-linecap="round" opacity="0.54"/><ellipse cx="1771.6" cy="485.4" rx="3.9" ry="4.3" fill="#000" opacity="0.7"/><ellipse cx="1749" cy="485.4" rx="6.2" ry="24.7" fill="#fff" opacity="0.43"/></g></g>
</g>
<path d="M1084 537.5H1817M1084.2 11V538" stroke="#555" stroke-width="1.4" fill="none"/>
<path d="M1086.2 11.5V537M1160.2 11.5V537M1233.2 11.5V537M1306.7 11.5V537M1379.7 11.5V537M1453.2 11.5V537M1526.7 11.5V537M1599.2 11.5V537M1672.2 11.5V537M1745.2 11.5V537" stroke="#a89a9c" stroke-width="1" fill="none" opacity="0.8"/>
<path d="M1086.2 11.8V27.5M1086.2 70V94.5M1086.2 99.3V115M1086.2 157.5V182M1086.2 186.3V202M1086.2 244.5V269M1086.2 274V289.7M1086.2 332.2V356.7M1086.2 361.6V377.3M1086.2 419.8V444.3M1086.2 449.7V465.4M1086.2 507.9V532.4M1160.2 11.8V27.5M1160.2 70V94.5M1160.2 99.3V115M1160.2 157.5V182M1160.2 186.3V202M1160.2 244.5V269M1160.2 274V289.7M1160.2 332.2V356.7M1160.2 361.6V377.3M1160.2 419.8V444.3M1160.2 449.7V465.4M1160.2 507.9V532.4M1233.2 11.8V27.5M1233.2 70V94.5M1233.2 99.3V115M1233.2 157.5V182M1233.2 186.3V202M1233.2 244.5V269M1233.2 274V289.7M1233.2 332.2V356.7M1233.2 361.6V377.3M1233.2 419.8V444.3M1233.2 449.7V465.4M1233.2 507.9V532.4M1306.7 11.8V27.5M1306.7 70V94.5M1306.7 99.3V115M1306.7 157.5V182M1306.7 186.3V202M1306.7 244.5V269M1306.7 274V289.7M1306.7 332.2V356.7M1306.7 361.6V377.3M1306.7 419.8V444.3M1306.7 449.7V465.4M1306.7 507.9V532.4M1379.7 11.8V27.5M1379.7 70V94.5M1379.7 99.3V115M1379.7 157.5V182M1379.7 186.3V202M1379.7 244.5V269M1379.7 274V289.7M1379.7 332.2V356.7M1379.7 361.6V377.3M1379.7 419.8V444.3M1379.7 449.7V465.4M1379.7 507.9V532.4M1453.2 11.8V27.5M1453.2 70V94.5M1453.2 99.3V115M1453.2 157.5V182M1453.2 186.3V202M1453.2 244.5V269M1453.2 274V289.7M1453.2 332.2V356.7M1453.2 361.6V377.3M1453.2 419.8V444.3M1453.2 449.7V465.4M1453.2 507.9V532.4M1526.7 11.8V27.5M1526.7 70V94.5M1526.7 99.3V115M1526.7 157.5V182M1526.7 186.3V202M1526.7 244.5V269M1526.7 274V289.7M1526.7 332.2V356.7M1526.7 361.6V377.3M1526.7 419.8V444.3M1526.7 449.7V465.4M1526.7 507.9V532.4M1599.2 11.8V27.5M1599.2 70V94.5M1599.2 99.3V115M1599.2 157.5V182M1599.2 186.3V202M1599.2 244.5V269M1599.2 274V289.7M1599.2 332.2V356.7M1599.2 361.6V377.3M1599.2 419.8V444.3M1599.2 449.7V465.4M1599.2 507.9V532.4M1672.2 11.8V27.5M1672.2 70V94.5M1672.2 99.3V115M1672.2 157.5V182M1672.2 186.3V202M1672.2 244.5V269M1672.2 274V289.7M1672.2 332.2V356.7M1672.2 361.6V377.3M1672.2 419.8V444.3M1672.2 449.7V465.4M1672.2 507.9V532.4M1745.2 11.8V27.5M1745.2 70V94.5M1745.2 99.3V115M1745.2 157.5V182M1745.2 186.3V202M1745.2 244.5V269M1745.2 274V289.7M1745.2 332.2V356.7M1745.2 361.6V377.3M1745.2 419.8V444.3M1745.2 449.7V465.4M1745.2 507.9V532.4" stroke="#fff" stroke-width="2.7" fill="none"/>
<path d="M1193.5 538v7M1340.5 538v7M1487.5 538v7M1634.5 538v7M1781.5 538v7M1078 55.5h7M1078 134.7h7M1078 222.7h7M1078 311.3h7M1078 402.6h7M1078 488.8h7" stroke="#444" stroke-width="1.3" fill="none"/>
<text transform="translate(1061.8 67.5)" font-family="'Liberation Serif','Times New Roman',serif" font-size="35.5" text-anchor="end" fill="#111">1.45</text>
<text transform="translate(1061.8 148)" font-family="'Liberation Serif','Times New Roman',serif" font-size="35.5" text-anchor="end" fill="#111">1.29</text>
<text transform="translate(1061.8 235.7)" font-family="'Liberation Serif','Times New Roman',serif" font-size="35.5" text-anchor="end" fill="#111">1.13</text>
<text transform="translate(1063.4 326)" font-family="'Liberation Serif','Times New Roman',serif" font-size="35.5" text-anchor="end" fill="#111">0.97</text>
<text transform="translate(1057 418.2)" font-family="'Liberation Serif','Times New Roman',serif" font-size="35.5" text-anchor="end" fill="#111">0.81</text>
<text transform="translate(1062.5 504.2)" font-family="'Liberation Serif','Times New Roman',serif" font-size="35.5" text-anchor="end" fill="#111">0.65</text>
<text transform="translate(1183 581)" font-family="'Liberation Serif','Times New Roman',serif" font-size="35.5" text-anchor="middle" fill="#111">0.04</text>
<text transform="translate(1341 581)" font-family="'Liberation Serif','Times New Roman',serif" font-size="35.5" text-anchor="middle" fill="#111">0.06</text>
<text transform="translate(1481.3 581)" font-family="'Liberation Serif','Times New Roman',serif" font-size="35.5" text-anchor="middle" fill="#111">0.08</text>
<text transform="translate(1629.5 581)" font-family="'Liberation Serif','Times New Roman',serif" font-size="35.5" text-anchor="middle" fill="#111">0.10</text>
<text transform="translate(1774 581)" font-family="'Liberation Serif','Times New Roman',serif" font-size="35.5" text-anchor="middle" fill="#111">0.12</text>
<text transform="translate(1468.5 627.5)" font-family="'Liberation Serif','Times New Roman',serif" font-size="35.5" text-anchor="middle" fill="#111">B (T)</text>
<text transform="translate(971 268.5) rotate(-90)" font-family="'Liberation Serif','Times New Roman',serif" font-size="37.5" text-anchor="middle" fill="#111">n (10<tspan font-size="22" dy="-14">12</tspan><tspan dy="14"> cm</tspan><tspan font-size="22" dy="-14">-2</tspan><tspan dy="14">)</tspan></text>
<rect x="1098.3" y="20" width="46.5" height="54.5" fill="#fff"/>
<text transform="translate(1121.8 54.5)" font-family="'Liberation Sans',Arial,sans-serif" font-size="34" text-anchor="middle" fill="#111" stroke="#111" stroke-width="0.25">(c)</text>
</g>
<g id="pd">
<clipPath id="dCf2"><rect x="1330" y="889" width="250" height="96"/></clipPath>
<clipPath id="dCf3"><rect x="1578" y="994" width="180" height="78"/></clipPath>
<clipPath id="dCf1"><rect x="1540" y="719" width="140" height="122"/></clipPath>
<clipPath id="dCf4"><rect x="1360" y="1141" width="215" height="42"/></clipPath>
<path d="M1123.2 718V1196" stroke="#c8c8c8" stroke-width="0.9" fill="none"/>
<path d="M987.5 825.4 1017.2 840.8 1054.6 832 1124.9 849.5 1192 832 1234.9 843 1258 834.6 1123.2 956.4Z" fill="url(#d3c)"/>
<path d="M987.5 824.7C987.5 825.9 998.9 834.9 1004 838.6C1009.1 842.3 1013.3 845.3 1018.3 846.9C1023.2 848.5 1029.2 849 1033.7 848.2C1038.2 847.5 1041.8 845.2 1045.3 842.5C1048.9 839.8 1050.2 832.5 1055 832C1059.8 831.4 1066.7 836.3 1074.4 839C1082 841.7 1092.3 846 1100.8 848.2C1109.2 850.4 1115.4 852.3 1124.9 852.2C1134.5 852 1146.8 850.5 1157.9 847.3C1169.1 844.2 1184.7 834.2 1192 833.3C1199.4 832.4 1197.3 839.6 1201.9 842.1C1206.5 844.6 1213.5 847.8 1219.5 848.2C1225.6 848.7 1231.8 847.1 1238.2 844.7C1244.6 842.4 1258 835.1 1258 834.2C1258 833.2 1244.4 837.8 1238.2 839C1232 840.2 1226.3 841.9 1220.6 841.2C1214.9 840.5 1208.7 836.9 1204.1 834.6C1199.5 832.2 1200.8 826.2 1193.1 827.1C1185.4 828 1169.3 836.9 1157.9 839.9C1146.6 842.8 1134.5 844.6 1124.9 844.7C1115.4 844.9 1109.2 843 1100.8 840.8C1092.3 838.6 1082 834.2 1074.4 831.5C1066.7 828.9 1060 824.4 1055 824.9C1050.1 825.4 1048.2 832 1044.7 834.6C1041.1 837.2 1038.1 839.9 1033.7 840.8C1029.3 841.6 1023.2 841 1018.3 839.4C1013.3 837.9 1009.1 834 1004 831.5C998.9 829.1 987.5 823.5 987.5 824.7Z" fill="#ee1c24"/>
<path d="M1121.6 762.7C1133.1 762.9 1189 822.1 1192 828.7C1195 835.3 1163.5 840.3 1157.9 841.9C1152.3 843.4 1130.4 847 1124.9 846.9C1119.4 846.9 1097.8 843 1092 841.2C1086.1 839.4 1052.1 832.3 1054.6 825.8C1057 819.3 1110.2 762.4 1121.6 762.7Z" fill="#2bb24c"/>
<path d="M987.5 822.7C990.9 818.9 1031.5 794.6 1038.1 795C1044.6 795.4 1052.1 823.1 1052.8 827.1C1053.5 831.1 1046.7 833.8 1044.7 835.3C1042.6 836.7 1035.2 840.6 1032.6 841.2C1029.9 841.7 1021.1 841.6 1018.3 840.8C1015.4 839.9 1007.1 834.9 1004 833.1C1000.9 831.3 984.1 826.5 987.5 822.7Z" fill="#1f8a3e"/>
<path d="M1192 828.7C1192.8 824.9 1206.4 800.8 1210.7 799.4C1215 798 1230.2 812.4 1234.9 814.4C1239.6 816.3 1256.9 817 1258 818.8C1259.1 820.5 1248.1 829.4 1245.9 831.5C1243.7 833.6 1238.6 838.5 1236 839.7C1233.4 840.8 1222.8 843.6 1219.5 843.4C1216.2 843.2 1205.8 838.9 1203 837.5C1200.3 836 1191.3 832.5 1192 828.7Z" fill="#2bb24c"/>
<path d="M987.5 821.6 1037.4 792.4 1039.2 795.9 989.7 823.6Z" fill="#fff"/>
<path d="M1212.9 787.5C1215.3 787.8 1230.5 799.4 1234.9 802.3C1239.3 805.1 1256.2 814.4 1257.3 815.9C1258.4 817.4 1248.4 818 1245.9 817.7C1243.4 817.3 1236.2 813.9 1232.7 812.2C1229.2 810.4 1212.7 802.5 1210.7 800.1C1208.7 797.6 1210.5 787.3 1212.9 787.5Z" fill="#fff"/>
<clipPath id="d3k"><path d="M987.5 821 1022.7 752.8 1032.6 753.4 1048 751.7 1065.6 747.3 1083.2 742.2 1100.8 735.2 1113.9 729.9 1122.7 734.3 1140.3 730.1 1157.9 738.5 1179.9 747.3 1197.5 752.1 1212.9 752.8 1226.1 752.8 1258 815.5 1212.9 788 1192 828 1121.6 762.7 1054.6 824.7 1038.1 793.5Z"/></clipPath>
<path d="M987.5 821 1022.7 752.8 1032.6 753.4 1048 751.7 1065.6 747.3 1083.2 742.2 1100.8 735.2 1113.9 729.9 1122.7 734.3 1140.3 730.1 1157.9 738.5 1179.9 747.3 1197.5 752.1 1212.9 752.8 1226.1 752.8 1258 815.5 1212.9 788 1192 828 1121.6 762.7 1054.6 824.7 1038.1 793.5Z" fill="url(#d3a)"/>
<g clip-path="url(#d3k)">
<path d="M1226.1 752.8 1258 815.5 1212.9 788 1219.5 766Z" fill="#15154c" opacity="0.85"/>
<path d="M987.5 821 1022.7 752.8 1038.1 793.5Z" fill="#2a2a88" opacity="0.7"/>
<path d="M1113.9 729.9 1122.7 734.3 1121.6 762.7 1092 788 1109.5 755Z" fill="#12123e" opacity="0.85"/>
<path d="M1022.7 752.8 1083.2 742.2 1065.6 792.4 1054.6 824.7 1038.1 793.5Z" fill="#28287e" opacity="0.55"/>
<path d="M1140.3 730.1 1212.9 752.8 1192 828 1157.9 796.8Z" fill="#26267a" opacity="0.5"/>
</g>
<path d="M986.4 957.2 1015 952.8 1048 949.2 1193.1 949.2 1228.3 952.8 1259.1 957.2 1228.3 962 1193.1 965.3 1048 965.3 1015 962Z" fill="none" stroke="#9a9a9a" stroke-width="0.9"/>
<path d="M1111.7 944.4 1123.2 956.7 1134.8 944.4 1123.2 937.8Z" fill="#6a0c0e"/>
<path d="M1048 1113.7 1059 1118.1 1081 1137.9 1113.9 1162.1 1131.5 1164.3 1157.9 1151.1 1179.9 1137.9 1197.5 1139 1201.9 1140.1 1258 1109.3 1239.3 1142.3 1223.9 1177.5 1201.9 1176.4 1168.9 1181.9 1142.5 1188.5 1122.7 1177.5 1100.8 1181.9 1074.4 1178.6 1048 1176.4 1015 1177.5 1004 1157.7 988.6 1147.2 1006.2 1150 1023.8 1155.5Z" fill="#1e1e66"/>
<path d="M1113.9 1162.1 1131.5 1164.3 1157.9 1151.1 1179.9 1137.9 1197.5 1139 1223.9 1177.5 1168.9 1181.9 1142.5 1188.5 1122.7 1177.5Z" fill="#16164e" opacity="0.8"/>
<path d="M1048 1113.7 1059 1118.1 1081 1137.9 1048 1176.4 1015 1177.5 1023.8 1155.5Z" fill="#26267c" opacity="0.6"/>
<path d="M1059 1118.1C1060.1 1115.1 1083.2 1109.1 1092 1107.1C1100.8 1105.2 1137 1099.9 1146.9 1098.3C1156.8 1096.8 1182.1 1091.4 1190.9 1091.7C1199.7 1092.1 1228.2 1100 1234.9 1101.6C1241.6 1103.3 1259.1 1107 1258 1108.2C1256.9 1109.5 1230.6 1111.4 1223.9 1113.7C1217.2 1116.1 1197.5 1127.6 1190.9 1131.3C1184.3 1135.1 1163.9 1147.8 1157.9 1151.1C1152 1154.5 1135.9 1163.7 1131.5 1164.8C1127.1 1165.9 1119 1164.8 1113.9 1162.1C1108.9 1159.4 1086.5 1142.3 1081 1137.9C1075.5 1133.5 1057.9 1121.2 1059 1118.1Z" fill="url(#d3b)"/>
<path d="M988.6 1073.7C988.6 1072.8 1007.7 1082.9 1015 1085.2C1022.2 1087.4 1053.5 1096.3 1061.2 1096.6C1068.9 1096.9 1085.6 1089.3 1092 1087.8C1098.3 1086.3 1117.2 1082.4 1124.9 1081.2C1132.6 1079.9 1162.3 1075 1168.9 1075.3C1175.5 1075.5 1187.6 1083.8 1190.9 1084.1C1194.2 1084.3 1197.5 1076.7 1201.9 1077.5C1206.3 1078.2 1229.3 1088.7 1234.9 1091.7C1240.5 1094.8 1258 1107.2 1258 1108.2C1258 1109.3 1241.6 1104 1234.9 1102.3C1228.2 1100.7 1199.7 1092.1 1190.9 1091.7C1182.1 1091.4 1156.8 1097.2 1146.9 1098.8C1137 1100.4 1100.8 1105.6 1092 1107.6C1083.2 1109.6 1063.4 1117.9 1059 1118.6C1054.6 1119.2 1052.4 1116.6 1048 1114.2C1043.6 1111.8 1020.9 1098.4 1015 1094.4C1009 1090.3 988.6 1074.6 988.6 1073.7Z" fill="#22aa46"/>
<path d="M1123.2 958.7C1129.8 958.8 1173.9 1007.1 1179.9 1012.6C1186 1018.1 1220.3 1047.3 1223.9 1050C1227.5 1052.6 1237.3 1055.7 1239.3 1056.6C1241.4 1057.4 1258.4 1064.7 1258 1064.7C1257.6 1064.7 1235.3 1057.1 1232.7 1057C1230.1 1056.9 1217.6 1062 1215.1 1063.6C1212.6 1065.2 1194.4 1083 1190.9 1083.4C1187.5 1083.8 1161.9 1071.3 1157.9 1070.2C1154 1069.1 1128.9 1065.5 1124.9 1065.4C1121 1065.2 1096.2 1067.4 1092 1068C1087.7 1068.6 1058.1 1074.7 1054.6 1074.6C1051 1074.5 1035 1066.7 1032.6 1065.8C1030.2 1064.9 1017.6 1059.7 1015 1060.1C1012.3 1060.5 989.3 1072.6 988.6 1072.4C987.9 1072.2 1001.9 1058.3 1004 1057C1006.1 1055.7 1019.8 1052.8 1023.8 1050C1027.7 1047.2 1064 1015.9 1070 1010.4C1075.9 1004.9 1116.6 958.6 1123.2 958.7Z" fill="#ee1c24"/>
<text transform="translate(1205.2 740.7) scale(1.08 1)" font-family="'DejaVu Sans','Liberation Sans',sans-serif" font-size="24" text-anchor="middle" fill="#111">C3</text>
<text transform="translate(1126 822.7) scale(1.08 1)" font-family="'DejaVu Sans','Liberation Sans',sans-serif" font-size="24" text-anchor="middle" fill="#111">C2</text>
<text transform="translate(1039.6 913.3) scale(1.08 1)" font-family="'DejaVu Sans','Liberation Sans',sans-serif" font-size="24" text-anchor="middle" fill="#111">C1</text>
<text transform="translate(1040.3 1013.7) scale(1.08 1)" font-family="'DejaVu Sans','Liberation Sans',sans-serif" font-size="24" text-anchor="middle" fill="#111">V1</text>
<text transform="translate(1007.3 1119.2) scale(1.08 1)" font-family="'DejaVu Sans','Liberation Sans',sans-serif" font-size="24" text-anchor="middle" fill="#111">V2</text>
<g filter="url(#dM)"><g clip-path="url(#dC)">
<rect x="1312" y="719" width="528" height="464" fill="#808080"/>
<g filter="url(#dB2)">
<path d="M1600 985L1700 966 1780 955 1845 950V1018L1780 1010 1700 1000 1620 995Z" fill="url(#dg1)"/>
<path d="M1640 984L1760 968 1845 960V1010L1760 1003 1660 995Z" fill="url(#dg1)"/>
<path d="M1600 872L1700 866 1845 861V893H1700L1620 886Z" fill="url(#dg7)"/>
<path d="M1640 1080L1740 1072 1845 1068V1125L1780 1115 1700 1108Z" fill="url(#dg7)"/>
<path d="M1700 1165L1845 1148V1190H1700Z" fill="url(#dg4)" opacity="0.2"/>
<rect x="1305" y="988" width="540" height="16" fill="#fff" opacity="0.22"/>
<rect x="1305" y="1088" width="540" height="26" fill="#fff" opacity="0.2"/>
</g>
<g mask="url(#dm2)"><g filter="url(#dB5)"><path d="M1550.5 888.5 1551.4 899.4 1552.4 909.7 1553.4 919.5 1554.6 928.6 1555.8 937.1 1557 945 1558.4 952.4 1559.8 959.1 1561.3 965.2 1562.9 970.7 1564.5 975.7 1566.2 980 1567.8 980 1566.7 975.7 1565.7 970.7 1564.8 965.2 1563.9 959.1 1563.1 952.4 1562.4 945 1561.8 937.1 1561.2 928.6 1560.7 919.5 1560.3 909.7 1560 899.4 1559.7 888.5Z" fill="#000" opacity="0.36"/><path d="M1534.3 888.5 1536 899.4 1537.8 909.7 1539.8 919.5 1542 928.6 1544.4 937.1 1547 945 1549.7 952.4 1552.7 959.1 1555.8 965.2 1559.1 970.7 1562.5 975.7 1566.2 980 1567.8 980 1564.5 975.7 1561.4 970.7 1558.5 965.2 1555.7 959.1 1553.2 952.4 1550.8 945 1548.6 937.1 1546.6 928.6 1544.7 919.5 1543.1 909.7 1541.6 899.4 1540.3 888.5Z" fill="#fff" opacity="1"/><path d="M1517.3 888.5 1520 899.4 1522.9 909.7 1526.1 919.5 1529.6 928.6 1533.2 937.1 1537.2 945 1541.4 952.4 1545.9 959.1 1550.6 965.2 1555.5 970.7 1560.7 975.7 1566.2 980 1567.8 980 1563.1 975.7 1558.7 970.7 1554.5 965.2 1550.5 959.1 1546.8 952.4 1543.4 945 1540.2 937.1 1537.3 928.6 1534.6 919.5 1532.2 909.7 1530 899.4 1528.1 888.5Z" fill="#000" opacity="0.9"/><path d="M1496.6 888.5 1500.6 899.4 1504.9 909.7 1509.6 919.5 1514.6 928.6 1519.9 937.1 1525.5 945 1531.5 952.4 1537.8 959.1 1544.4 965.2 1551.3 970.7 1558.6 975.7 1566.2 980 1567.8 980 1561 975.7 1554.5 970.7 1548.4 965.2 1542.6 959.1 1537.1 952.4 1531.9 945 1527.1 937.1 1522.6 928.6 1518.4 919.5 1514.5 909.7 1511 899.4 1507.8 888.5Z" fill="#fff" opacity="0.62"/><path d="M1478.4 888.5 1483.7 899.4 1489.4 909.7 1495.4 919.5 1501.8 928.6 1508.6 937.1 1515.7 945 1523.2 952.4 1531.1 959.1 1539.3 965.2 1547.9 970.7 1556.9 975.7 1566.2 980 1567.8 980 1559.2 975.7 1551 970.7 1543.2 965.2 1535.7 959.1 1528.6 952.4 1521.9 945 1515.5 937.1 1509.5 928.6 1503.9 919.5 1498.6 909.7 1493.7 899.4 1489.2 888.5Z" fill="#000" opacity="0.5"/><path d="M1458.7 888.5 1465.6 899.4 1472.8 909.7 1480.4 919.5 1488.4 928.6 1496.8 937.1 1505.6 945 1514.7 952.4 1524.3 959.1 1534.2 965.2 1544.5 970.7 1555.1 975.7 1566.2 980 1567.8 980 1557.5 975.7 1547.7 970.7 1538.2 965.2 1529.1 959.1 1520.3 952.4 1512 945 1504 937.1 1496.4 928.6 1489.2 919.5 1482.4 909.7 1476 899.4 1469.9 888.5Z" fill="#fff" opacity="0.36"/><path d="M1439.9 888.5 1448.3 899.4 1457.1 909.7 1466.3 919.5 1475.8 928.6 1485.8 937.1 1496.1 945 1506.8 952.4 1517.9 959.1 1529.4 965.2 1541.3 970.7 1553.6 975.7 1566.2 980 1567.8 980 1555.9 975.7 1544.3 970.7 1533.1 965.2 1522.3 959.1 1511.9 952.4 1501.9 945 1492.3 937.1 1483 928.6 1474.2 919.5 1465.7 909.7 1457.6 899.4 1449.9 888.5Z" fill="#000" opacity="0.34"/><path d="M1422.6 888.5 1432.1 899.4 1442.1 909.7 1452.5 919.5 1463.4 928.6 1474.7 937.1 1486.4 945 1498.6 952.4 1511.2 959.1 1524.3 965.2 1537.8 970.7 1551.8 975.7 1566.2 980 1567.8 980 1554.1 975.7 1540.8 970.7 1528 965.2 1515.6 959.1 1503.7 952.4 1492.2 945 1481.2 937.1 1470.6 928.6 1460.4 919.5 1450.7 909.7 1441.4 899.4 1432.6 888.5Z" fill="#fff" opacity="0.2"/><path d="M1403 888.5 1413.8 899.4 1425.1 909.7 1436.9 919.5 1449.3 928.6 1462.1 937.1 1475.4 945 1489.3 952.4 1503.7 959.1 1518.5 965.2 1533.9 970.7 1549.8 975.7 1566.2 980 1567.8 980 1552.1 975.7 1536.9 970.7 1522.2 965.2 1508.1 959.1 1494.4 952.4 1481.2 945 1468.6 937.1 1456.5 928.6 1444.8 919.5 1433.7 909.7 1423.1 899.4 1413 888.5Z" fill="#000" opacity="0.16"/><path d="M1385.8 888.5 1397.7 899.4 1410.2 909.7 1423.3 919.5 1436.9 928.6 1451.1 937.1 1465.8 945 1481.1 952.4 1497 959.1 1513.5 965.2 1530.5 970.7 1548.1 975.7 1566.2 980 1567.8 980 1550.4 975.7 1533.5 970.7 1517.2 965.2 1501.4 959.1 1486.2 952.4 1471.6 945 1457.6 937.1 1444.1 928.6 1431.2 919.5 1418.8 909.7 1407 899.4 1395.8 888.5Z" fill="#fff" opacity="0.11"/><path d="M1367 888.5 1380.1 899.4 1393.9 909.7 1408.3 919.5 1423.3 928.6 1439 937.1 1455.3 945 1472.2 952.4 1489.7 959.1 1507.9 965.2 1526.7 970.7 1546.1 975.7 1566.2 980 1567.8 980 1548.4 975.7 1529.7 970.7 1511.6 965.2 1494.1 959.1 1477.3 952.4 1461.1 945 1445.5 937.1 1430.5 928.6 1416.2 919.5 1402.5 909.7 1389.4 899.4 1377 888.5Z" fill="#000" opacity="0.08"/></g></g>
<g mask="url(#dm3)"><g filter="url(#dB1)"><path d="M1589.2 1000 1590.2 1006.4 1591.1 1012.9 1591.9 1019.5 1592.8 1026.3 1593.5 1033.2 1594.3 1040.3 1594.9 1047.5 1595.6 1054.9 1596.2 1062.4 1596.7 1070 1604.3 1070 1603.3 1062.4 1602.3 1054.9 1601.2 1047.5 1600.1 1040.3 1598.9 1033.2 1597.7 1026.3 1596.5 1019.5 1595.2 1012.9 1593.8 1006.4 1592.4 1000Z" fill="#000" opacity="0.85"/><path d="M1598.9 1000.5 1600.4 1006.8 1601.9 1013.3 1603.2 1019.9 1604.6 1026.6 1605.8 1033.5 1607 1040.5 1608.1 1047.7 1609.1 1055 1610.1 1062.4 1611 1070 1618.2 1070 1616.9 1062.4 1615.5 1055 1614.1 1047.7 1612.6 1040.5 1611 1033.5 1609.4 1026.6 1607.6 1019.9 1605.9 1013.3 1604 1006.8 1602.1 1000.5Z" fill="#fff" opacity="1"/><path d="M1607.9 1002.5 1610.1 1008.6 1612.1 1014.9 1614 1021.3 1615.9 1027.9 1617.6 1034.6 1619.3 1041.4 1620.8 1048.3 1622.2 1055.4 1623.6 1062.6 1624.8 1070 1636.8 1070 1634.7 1062.6 1632.5 1055.4 1630.2 1048.3 1627.7 1041.4 1625.2 1034.6 1622.6 1027.9 1619.9 1021.3 1617.1 1014.9 1614.1 1008.6 1611.1 1002.5Z" fill="#000" opacity="0.95"/><path d="M1618.4 1005 1621.8 1010.9 1625.1 1017 1628.2 1023.1 1631.2 1029.4 1634 1035.9 1636.6 1042.4 1639.2 1049.1 1641.5 1056 1643.7 1062.9 1645.8 1070 1657 1070 1654.1 1062.9 1651.1 1056 1648 1049.1 1644.6 1042.4 1641.2 1035.9 1637.6 1029.4 1633.8 1023.1 1629.9 1017 1625.8 1010.9 1621.6 1005Z" fill="#fff" opacity="0.8"/><path d="M1630.4 1008.5 1634.3 1014.1 1638.1 1019.8 1641.7 1025.7 1645.1 1031.6 1648.3 1037.7 1651.4 1043.9 1654.3 1050.3 1657 1056.7 1659.6 1063.3 1662 1070 1673.2 1070 1670 1063.3 1666.6 1056.7 1663.1 1050.3 1659.4 1043.9 1655.5 1037.7 1651.5 1031.6 1647.3 1025.7 1642.9 1019.8 1638.3 1014.1 1633.6 1008.5Z" fill="#000" opacity="0.5"/><path d="M1643.4 1012 1648.1 1017.3 1652.7 1022.7 1657 1028.2 1661.2 1033.8 1665.1 1039.5 1668.9 1045.4 1672.4 1051.4 1675.7 1057.5 1678.9 1063.7 1681.8 1070 1692.2 1070 1688.5 1063.7 1684.7 1057.5 1680.6 1051.4 1676.4 1045.4 1671.9 1039.5 1667.3 1033.8 1662.4 1028.2 1657.3 1022.7 1652.1 1017.3 1646.6 1012Z" fill="#fff" opacity="0.28"/><path d="M1656.4 1015 1661.5 1020 1666.4 1025.1 1671.1 1030.3 1675.6 1035.7 1679.9 1041.1 1684 1046.7 1687.8 1052.3 1691.4 1058.1 1694.8 1064 1698 1070 1708 1070 1704.1 1064 1700 1058.1 1695.7 1052.3 1691.2 1046.7 1686.5 1041.1 1681.6 1035.7 1676.4 1030.3 1671 1025.1 1665.4 1020 1659.6 1015Z" fill="#000" opacity="0.2"/><path d="M1670.4 1019 1675.9 1023.6 1681.2 1028.4 1686.2 1033.2 1691 1038.2 1695.6 1043.2 1699.9 1048.4 1704 1053.6 1707.9 1059 1711.6 1064.4 1715 1070 1725 1070 1720.9 1064.4 1716.6 1059 1712 1053.6 1707.2 1048.4 1702.2 1043.2 1696.9 1038.2 1691.4 1033.2 1685.7 1028.4 1679.8 1023.6 1673.6 1019Z" fill="#fff" opacity="0.12"/></g></g>
<g mask="url(#dm1)"><g filter="url(#dB1)"><path d="M1580.6 720 1581.5 733.4 1582.6 746.9 1583.9 760.3 1585.4 773.8 1586.9 787.2 1588.4 800.7 1589.8 814.1 1591.3 827.6 1592.8 841 1600.8 841 1599 827.6 1597.1 814.1 1595.3 800.7 1593.5 787.2 1591.6 773.8 1589.8 760.3 1588.1 746.9 1586.7 733.4 1585.4 720Z" fill="#000" opacity="0.3"/><path d="M1588.1 720 1590.3 733.4 1592.9 746.9 1596.1 760.3 1599.3 773.8 1602.1 787.2 1604.4 800.7 1606.5 814.1 1608.3 827.6 1609.8 841 1616.2 841 1614.4 827.6 1612.3 814.1 1609.9 800.7 1607.4 787.2 1604.3 773.8 1600.8 760.3 1597.3 746.9 1594.4 733.4 1591.9 720Z" fill="#fff" opacity="0.6"/><path d="M1597.6 725 1600.4 737.9 1603.5 750.8 1606.8 763.7 1610.5 776.6 1614.3 789.4 1617.8 802.3 1621 815.2 1624 828.1 1626.8 841 1634.8 841 1631.6 828.1 1628.3 815.2 1624.7 802.3 1620.9 789.4 1616.7 776.6 1612.7 763.7 1609 750.8 1605.6 737.9 1602.4 725Z" fill="#000" opacity="0.28"/><path d="M1619.6 760 1622.7 768.7 1625.7 777.3 1628.7 786 1631.5 794.7 1634.3 803.3 1637 812 1639.6 820.7 1642.1 829.3 1644.6 838 1652.6 838 1649.8 829.3 1646.9 820.7 1643.9 812 1640.9 803.3 1637.8 794.7 1634.6 786 1631.3 777.3 1627.9 768.7 1624.4 760Z" fill="#fff" opacity="0.12"/><path d="M1549.9 723 1549.9 731.6 1550.4 740.1 1551.2 748.7 1552.4 757.2 1554 765.8 1556.1 774.3 1558.5 782.9 1561.5 791.4 1569.6 800 1574.4 800 1566.1 791.4 1562.9 782.9 1560.2 774.3 1558 765.8 1556.1 757.2 1554.7 748.7 1553.7 740.1 1553 731.6 1552.7 723Z" fill="#fff" opacity="0.12"/><path d="M1539.9 721.5 1541.8 729.1 1543.6 736.7 1545.3 744.3 1546.8 751.9 1548.2 759.6 1549.6 767.2 1550.9 774.8 1552.1 782.4 1553.2 790 1558.8 790 1557.5 782.4 1556 774.8 1554.5 767.2 1552.9 759.6 1551.1 751.9 1549.4 744.3 1547.5 736.7 1545.4 729.1 1543.3 721.5Z" fill="#000" opacity="0.12"/></g></g>
<g mask="url(#dm4)"><g filter="url(#dB1)"><path d="M1538.9 1139 1539.5 1145.1 1540.3 1151.1 1541.3 1156.9 1542.4 1162.6 1543.7 1168.2 1545.1 1173.6 1546.7 1178.9 1548.5 1184 1554.5 1184 1552.6 1178.9 1550.9 1173.6 1549.4 1168.2 1548 1162.6 1546.7 1156.9 1545.6 1151.1 1544.7 1145.1 1544 1139Z" fill="#fff" opacity="0.8"/><path d="M1524.6 1139 1525.4 1145.1 1526.4 1151.1 1527.6 1156.9 1528.9 1162.6 1530.5 1168.2 1532.2 1173.6 1534.2 1178.9 1536.3 1184 1544.7 1184 1542.4 1178.9 1540.3 1173.6 1538.4 1168.2 1536.7 1162.6 1535.2 1156.9 1533.8 1151.1 1532.7 1145.1 1531.8 1139Z" fill="#000" opacity="0.88"/><path d="M1509.8 1139 1510.7 1145.1 1511.9 1151.1 1513.3 1156.9 1515 1162.6 1516.9 1168.2 1519 1173.6 1521.3 1178.9 1523.9 1184 1532.3 1184 1529.6 1178.9 1527.1 1173.6 1524.8 1168.2 1522.7 1162.6 1520.9 1156.9 1519.4 1151.1 1518 1145.1 1516.9 1139Z" fill="#fff" opacity="0.8"/><path d="M1493.8 1139 1494.9 1145.1 1496.4 1151.1 1498 1156.9 1500 1162.6 1502.2 1168.2 1504.7 1173.6 1507.5 1178.9 1510.5 1184 1519.7 1184 1516.5 1178.9 1513.6 1173.6 1510.9 1168.2 1508.5 1162.6 1506.4 1156.9 1504.5 1151.1 1502.9 1145.1 1501.6 1139Z" fill="#000" opacity="0.48"/><path d="M1471.3 1139 1472.6 1145.1 1474.3 1151.1 1476.3 1156.9 1478.7 1162.6 1481.3 1168.2 1484.3 1173.6 1487.6 1178.9 1491.3 1184 1503.3 1184 1499.4 1178.9 1495.9 1173.6 1492.7 1168.2 1489.8 1162.6 1487.2 1156.9 1485 1151.1 1483 1145.1 1481.5 1139Z" fill="#fff" opacity="0.48"/><path d="M1453.7 1139 1455.3 1145.1 1457.2 1151.1 1459.6 1156.9 1462.2 1162.6 1465.3 1168.2 1468.7 1173.6 1472.5 1178.9 1476.7 1184 1488.7 1184 1484.3 1178.9 1480.3 1173.6 1476.6 1168.2 1473.3 1162.6 1470.4 1156.9 1467.9 1151.1 1465.7 1145.1 1463.9 1139Z" fill="#000" opacity="0.72"/><path d="M1436.4 1139 1438.2 1145.1 1440.4 1151.1 1443 1156.9 1446 1162.6 1449.4 1168.2 1453.3 1173.6 1457.6 1178.9 1462.3 1184 1473.9 1184 1469 1178.9 1464.5 1173.6 1460.4 1168.2 1456.7 1162.6 1453.5 1156.9 1450.7 1151.1 1448.2 1145.1 1446.2 1139Z" fill="#fff" opacity="0.52"/><path d="M1418.9 1139 1420.8 1145.1 1423.3 1151.1 1426.2 1156.9 1429.6 1162.6 1433.4 1168.2 1437.7 1173.6 1442.5 1178.9 1447.7 1184 1459.3 1184 1453.9 1178.9 1448.9 1173.6 1444.4 1168.2 1440.3 1162.6 1436.7 1156.9 1433.6 1151.1 1430.9 1145.1 1428.7 1139Z" fill="#000" opacity="0.42"/><path d="M1399.3 1139 1401.5 1145.1 1404.2 1151.1 1407.4 1156.9 1411.2 1162.6 1415.4 1168.2 1420.2 1173.6 1425.5 1178.9 1431.3 1184 1443.3 1184 1437.3 1178.9 1431.8 1173.6 1426.7 1168.2 1422.3 1162.6 1418.3 1156.9 1414.8 1151.1 1411.9 1145.1 1409.5 1139Z" fill="#fff" opacity="0.32"/><path d="M1379.7 1139 1382.1 1145.1 1385.1 1151.1 1388.7 1156.9 1392.8 1162.6 1397.5 1168.2 1402.8 1173.6 1408.6 1178.9 1415 1184 1427 1184 1420.4 1178.9 1414.3 1173.6 1408.8 1168.2 1403.9 1162.6 1399.6 1156.9 1395.8 1151.1 1392.6 1145.1 1389.9 1139Z" fill="#000" opacity="0.22"/><path d="M1360.4 1139 1363 1145.1 1366.3 1151.1 1370.2 1156.9 1374.7 1162.6 1379.8 1168.2 1385.6 1173.6 1391.9 1178.9 1398.9 1184 1410.9 1184 1403.7 1178.9 1397.1 1173.6 1391.2 1168.2 1385.8 1162.6 1381.1 1156.9 1377 1151.1 1373.5 1145.1 1370.6 1139Z" fill="#fff" opacity="0.16"/><path d="M1340.8 1139 1343.7 1145.1 1347.3 1151.1 1351.5 1156.9 1356.4 1162.6 1361.9 1168.2 1368.2 1173.6 1375 1178.9 1382.6 1184 1394.6 1184 1386.8 1178.9 1379.7 1173.6 1373.3 1168.2 1367.5 1162.6 1362.4 1156.9 1357.9 1151.1 1354.1 1145.1 1351 1139Z" fill="#000" opacity="0.1"/></g></g>
<g filter="url(#dB3)">
<path d="M1310 870.2H1480L1525 871.7 1553 873.2 1525 874.7 1480 876H1310Z" fill="#fff" opacity="1"/>
<path d="M1590 884.5L1680 878.5 1740 876 1845 875V891H1740L1680 890Z" fill="url(#dg2)"/>
<path d="M1310 982H1560L1640 980 1700 972 1770 963 1845 958V1013L1770 1008 1700 1001 1640 995.5 1560 991.5 1450 991.5H1310Z" fill="#fff" opacity="1"/>
<path d="M1310 992H1440L1380 994.5H1310Z" fill="#fff" opacity="0.55"/>
<path d="M1440 990.5L1560 988.5 1620 989.5 1668 991.5 1620 994 1560 995 1440 993Z" fill="url(#dg6)"/>
<path d="M1620 1080L1720 1074.5 1845 1072.5V1094H1620Z" fill="url(#dg3)"/>
<path d="M1310 1093.5H1845V1103H1310Z" fill="#fff" opacity="1"/>
<path d="M1310 1103.8H1845V1108.5H1310Z" fill="#000" opacity="0.55"/>
<path d="M1790 1103H1845V1109H1810Z" fill="#fff" opacity="0.8"/>
<path d="M1700 1140L1845 1137.5V1144L1700 1142.5Z" fill="url(#dg4)"/>
</g>
<ellipse cx="1573" cy="1083" rx="7" ry="3.5" fill="#fff" opacity="0.4" filter="url(#dB1)"/>
</g></g>
<path d="M1312.4 827.8H1838.2M1312.4 939.7H1838.2M1312.4 1032.9H1838.2M1312.4 1156.3H1838.2" stroke="#2a2a2a" stroke-width="1.8" stroke-dasharray="2 3.1" fill="none"/>
<path d="M1314.4 844.3H1826.2M1314.4 886.4H1826.2M1314.4 1073.7H1826.2M1314.4 1141.3H1826.2" stroke="#4da850" stroke-width="1.5" stroke-dasharray="13.5 12.8" fill="none"/>
<path d="M1312.4 897 1325.7 904.5 1339 911.9 1352.4 919.3 1365.7 927.1 1379 934.6 1392.3 940.8 1405.7 946.3 1419 951.2 1432.3 955.6 1445.6 959.7 1459 963.3 1472.3 966.7 1485.6 969.9 1498.9 972.8 1512.2 975.4 1525.6 977.9 1538.9 980.2 1552.2 982.4 1565.5 984.4 1578.9 986.3 1592.2 988.3 1605.5 990.3 1618.8 992.3 1632.2 994.5 1645.5 997.1 1658.8 1000.2 1672.1 1003.7 1685.4 1007.5 1698.8 1011.6 1712.1 1016.2 1725.4 1021.3 1738.7 1026.9 1752.1 1032.6 1765.4 1038.3 1778.7 1044.2 1792 1050.3 1805.4 1056.5 1818.7 1062.7 1832 1069M1445 899 1451.5 903.8 1458.1 908.7 1464.6 913.8 1471.2 918.9 1477.7 924.3 1484.2 930 1490.8 935.6 1497.3 940.9 1503.8 945.9 1510.4 950.7 1516.9 955.3 1523.5 959.8 1530 964 1536.5 968.1 1543.1 972.2 1549.6 976 1556.2 979.4 1562.7 982 1569.2 984.1 1575.8 985.9 1582.3 987.7 1588.8 989.6 1595.4 991.8 1601.9 993.9 1608.5 996.2 1615 998.6 1621.5 1001.4 1628.1 1004.6 1634.6 1008.4 1641.2 1012.7 1647.7 1017.4 1654.2 1022.5 1660.8 1027.6 1667.3 1033.1 1673.8 1038.9 1680.4 1045.3 1686.9 1052.1 1693.5 1059.7 1700 1068" stroke="#222" stroke-width="1.3" stroke-dasharray="6 4.5" fill="none" clip-path="url(#dC)"/>
<path d="M1531 892.5L1541 915 1553 945 1566 972 1578 986 1590 1000 1602 1025 1611 1048 1617 1068" stroke="#222" stroke-width="1.3" stroke-dasharray="6 4.5" fill="none"/>
<rect x="1312.4" y="719.4" width="525.8" height="462.4" fill="none" stroke="#333" stroke-width="1.4"/>
<rect x="1656.4" y="721" width="173.4" height="18.4" fill="url(#dcb)" stroke="#5a1010" stroke-width="0.8"/>
<text transform="translate(1744.5 735.5) scale(1.02 1)" font-family="'Liberation Sans',Arial,sans-serif" font-size="15.5" text-anchor="middle" fill="#17324e" font-weight="bold">(V<tspan font-size="10" dy="2.5">M</tspan><tspan dy="-2.5"> - V</tspan><tspan font-size="10" dy="2.5">R</tspan><tspan dy="-2.5">)/I</tspan><tspan font-size="10" dy="2.5">L</tspan><tspan dy="-2.5"> (Ω)</tspan></text>
<text transform="translate(1699.4 716) scale(1.05 1)" font-family="'Liberation Sans',Arial,sans-serif" font-size="14.5" text-anchor="middle" fill="#222" font-weight="bold">-10</text>
<text transform="translate(1744.5 716) scale(1.05 1)" font-family="'Liberation Sans',Arial,sans-serif" font-size="14.5" text-anchor="middle" fill="#222" font-weight="bold">0</text>
<text transform="translate(1789.3 716) scale(1.05 1)" font-family="'Liberation Sans',Arial,sans-serif" font-size="14.5" text-anchor="middle" fill="#222" font-weight="bold">10</text>
<text transform="translate(1308.5 743.5) scale(1.1 1)" font-family="'Liberation Sans',Arial,sans-serif" font-size="14" text-anchor="end" fill="#222" font-weight="bold">6</text>
<text transform="translate(1308.5 820.6) scale(1.1 1)" font-family="'Liberation Sans',Arial,sans-serif" font-size="14" text-anchor="end" fill="#222" font-weight="bold">4</text>
<text transform="translate(1308.5 897.7) scale(1.1 1)" font-family="'Liberation Sans',Arial,sans-serif" font-size="14" text-anchor="end" fill="#222" font-weight="bold">2</text>
<text transform="translate(1308.5 974.8) scale(1.1 1)" font-family="'Liberation Sans',Arial,sans-serif" font-size="14" text-anchor="end" fill="#222" font-weight="bold">0</text>
<text transform="translate(1308.5 1051.9) scale(1.1 1)" font-family="'Liberation Sans',Arial,sans-serif" font-size="14" text-anchor="end" fill="#222" font-weight="bold">-2</text>
<text transform="translate(1308.5 1129) scale(1.1 1)" font-family="'Liberation Sans',Arial,sans-serif" font-size="14" text-anchor="end" fill="#222" font-weight="bold">-4</text>
<text transform="translate(1311.4 1197) scale(1.14 1)" font-family="'Liberation Sans',Arial,sans-serif" font-size="14" text-anchor="middle" fill="#222" font-weight="bold">-0.3</text>
<text transform="translate(1399 1197) scale(1.14 1)" font-family="'Liberation Sans',Arial,sans-serif" font-size="14" text-anchor="middle" fill="#222" font-weight="bold">-0.2</text>
<text transform="translate(1486.7 1197) scale(1.14 1)" font-family="'Liberation Sans',Arial,sans-serif" font-size="14" text-anchor="middle" fill="#222" font-weight="bold">-0.1</text>
<text transform="translate(1575.3 1197) scale(1.14 1)" font-family="'Liberation Sans',Arial,sans-serif" font-size="14" text-anchor="middle" fill="#222" font-weight="bold">0.0</text>
<text transform="translate(1662.9 1197) scale(1.14 1)" font-family="'Liberation Sans',Arial,sans-serif" font-size="14" text-anchor="middle" fill="#222" font-weight="bold">0.1</text>
<text transform="translate(1750.6 1197) scale(1.14 1)" font-family="'Liberation Sans',Arial,sans-serif" font-size="14" text-anchor="middle" fill="#222" font-weight="bold">0.2</text>
<text transform="translate(1838.2 1197) scale(1.14 1)" font-family="'Liberation Sans',Arial,sans-serif" font-size="14" text-anchor="middle" fill="#222" font-weight="bold">0.3</text>
<text transform="translate(1589 1225) scale(0.95 1)" font-family="'Liberation Sans',Arial,sans-serif" font-size="26" text-anchor="middle" fill="#111">B(T)</text>
<text transform="translate(1289 955) rotate(-90)" font-family="'Liberation Sans',Arial,sans-serif" font-size="20.5" text-anchor="middle" fill="#222">Gate Voltage (V)</text>
<text transform="translate(1822 825)" font-family="'Liberation Serif','Times New Roman',serif" font-size="23.5" text-anchor="middle" fill="#222">I</text>
<text transform="translate(1326.5 937)" font-family="'Liberation Serif','Times New Roman',serif" font-size="23.5" text-anchor="middle" fill="#222">II</text>
<text transform="translate(1820 1050.5)" font-family="'Liberation Serif','Times New Roman',serif" font-size="23.5" text-anchor="middle" fill="#222">III</text>
<text transform="translate(1331 1175)" font-family="'Liberation Serif','Times New Roman',serif" font-size="23.5" text-anchor="middle" fill="#222">IV</text>
<text transform="translate(896.5 725.5)" font-family="'Liberation Sans',Arial,sans-serif" font-size="35.5" text-anchor="start" fill="#111">(d)</text>
</g>
</svg>
</body></html>
